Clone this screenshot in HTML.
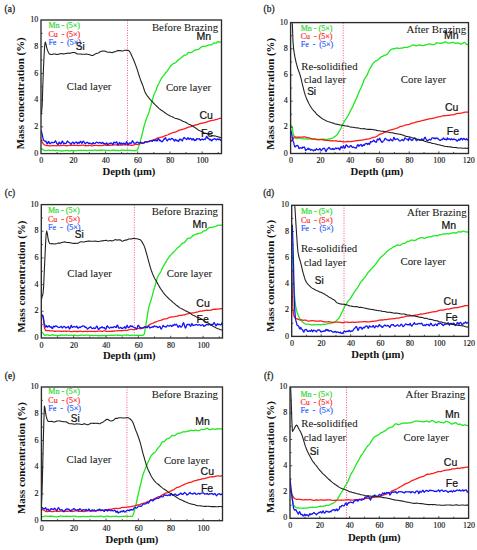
<!DOCTYPE html>
<html><head><meta charset="utf-8"><style>
html,body{margin:0;padding:0;background:#fff;}
body{width:477px;height:550px;overflow:hidden;}
svg{display:block;}
.tk{font-family:"Liberation Serif",serif;font-size:8px;fill:#111;stroke:#111;stroke-width:0.15px;}
.pl{font-family:"Liberation Serif",serif;font-size:9.4px;fill:#222;stroke:#222;stroke-width:0.25px;}
.yl{font-family:"Liberation Serif",serif;font-size:10.9px;font-weight:bold;fill:#111;}
.xl{font-family:"Liberation Serif",serif;font-size:10.7px;font-weight:bold;fill:#111;}
.lg{font-family:"Liberation Serif",serif;font-size:8px;stroke-width:0.2px;}
.ann{font-family:"Liberation Serif",serif;font-size:10.8px;fill:#1a1a1a;stroke:#1a1a1a;stroke-width:0.08px;}
.si{font-family:"Liberation Sans",sans-serif;font-size:10px;fill:#111;stroke:#111;stroke-width:0.22px;}
.el{font-family:"Liberation Sans",sans-serif;font-size:10.5px;fill:#111;stroke:#111;stroke-width:0.22px;}
</style></head><body>
<svg width="477" height="550" viewBox="0 0 477 550">
<rect width="477" height="550" fill="#fff"/>
<clipPath id="clip0"><rect x="41.00" y="20.00" width="180.50" height="133.60"/></clipPath>
<g clip-path="url(#clip0)">
<line x1="127.54" y1="20.00" x2="127.54" y2="153.60" stroke="#f4506e" stroke-width="0.9" stroke-dasharray="1.1,1.4"/>
<polyline points="41.00,148.49 41.60,148.70 42.20,148.97 42.80,149.37 43.41,149.95 44.01,150.43 44.61,150.52 45.21,150.55 45.81,150.55 46.41,150.54 47.02,150.42 47.62,150.28 48.22,150.19 48.82,150.17 49.42,150.31 50.02,150.41 50.63,150.47 51.23,150.43 51.83,150.33 52.43,150.29 53.03,150.26 53.64,150.35 54.24,150.44 54.84,150.52 55.44,150.54 56.04,150.46 56.64,150.41 57.25,150.40 57.85,150.49 58.45,150.62 59.05,150.71 59.65,150.80 60.25,150.88 60.86,150.94 61.46,150.99 62.06,150.98 62.66,150.92 63.26,150.84 63.86,150.76 64.47,150.69 65.07,150.64 65.67,150.53 66.27,150.44 66.87,150.39 67.47,150.42 68.08,150.58 68.68,150.75 69.28,150.91 69.88,150.87 70.48,150.76 71.08,150.60 71.69,150.45 72.29,150.49 72.89,150.56 73.49,150.67 74.09,150.73 74.69,150.73 75.30,150.72 75.90,150.71 76.50,150.63 77.10,150.54 77.70,150.43 78.30,150.36 78.91,150.41 79.51,150.44 80.11,150.41 80.71,150.36 81.31,150.30 81.91,150.34 82.52,150.42 83.12,150.45 83.72,150.46 84.32,150.41 84.92,150.39 85.52,150.46 86.12,150.52 86.73,150.59 87.33,150.53 87.93,150.39 88.53,150.32 89.13,150.27 89.74,150.39 90.34,150.47 90.94,150.40 91.54,150.36 92.14,150.35 92.74,150.33 93.34,150.31 93.95,150.18 94.55,150.00 95.15,150.07 95.75,150.17 96.35,150.38 96.95,150.51 97.56,150.45 98.16,150.38 98.76,150.29 99.36,150.27 99.96,150.27 100.56,150.26 101.17,150.24 101.77,150.24 102.37,150.21 102.97,150.13 103.57,150.07 104.18,150.06 104.78,150.13 105.38,150.26 105.98,150.34 106.58,150.39 107.18,150.38 107.79,150.37 108.39,150.41 108.99,150.46 109.59,150.53 110.19,150.57 110.79,150.55 111.39,150.45 112.00,150.32 112.60,150.17 113.20,150.02 113.80,150.06 114.40,150.14 115.00,150.36 115.61,150.50 116.21,150.49 116.81,150.47 117.41,150.42 118.01,150.50 118.62,150.62 119.22,150.59 119.82,150.54 120.42,150.34 121.02,150.17 121.62,150.03 122.23,149.98 122.83,150.03 123.43,150.14 124.03,150.29 124.63,150.37 125.23,150.43 125.84,150.34 126.44,150.25 127.04,150.17 127.64,150.17 128.24,150.29 128.84,150.39 129.44,150.46 130.05,150.46 130.65,150.42 131.25,150.45 131.85,150.49 132.45,150.58 133.06,150.67 133.66,150.72 134.26,150.73 134.86,150.69 135.46,150.62 136.06,150.52 136.66,150.31 137.27,149.94 137.87,149.05 138.47,147.16 139.07,145.31 139.67,143.34 140.28,141.23 140.88,139.09 141.48,136.88 142.08,134.56 142.68,132.08 143.28,129.49 143.88,126.96 144.49,124.80 145.09,122.84 145.69,120.99 146.29,119.20 146.89,117.46 147.50,115.96 148.10,114.55 148.70,112.98 149.30,111.25 149.90,109.09 150.50,106.87 151.11,104.71 151.71,102.52 152.31,100.28 152.91,98.12 153.51,96.06 154.11,94.51 154.72,93.23 155.32,91.83 155.92,90.43 156.52,88.69 157.12,87.05 157.72,85.61 158.32,84.32 158.93,83.22 159.53,82.07 160.13,80.92 160.73,79.67 161.33,78.42 161.94,77.53 162.54,76.73 163.14,76.12 163.74,75.43 164.34,74.56 164.94,73.74 165.55,72.96 166.15,72.26 166.75,71.60 167.35,70.79 167.95,69.95 168.55,69.06 169.16,68.14 169.76,67.14 170.36,66.26 170.96,65.52 171.56,64.97 172.16,64.55 172.77,64.10 173.37,63.67 173.97,63.34 174.57,63.05 175.17,62.87 175.77,62.52 176.38,61.86 176.98,61.21 177.58,60.56 178.18,60.11 178.78,59.73 179.38,59.19 179.99,58.65 180.59,58.19 181.19,57.73 181.79,57.22 182.39,56.73 182.99,56.25 183.59,55.77 184.20,55.31 184.80,55.15 185.40,55.05 186.00,54.94 186.60,54.71 187.20,53.84 187.81,53.11 188.41,52.59 189.01,52.43 189.61,52.57 190.21,52.58 190.82,52.53 191.42,52.36 192.02,52.14 192.62,51.75 193.22,51.32 193.82,50.76 194.43,50.36 195.03,50.14 195.63,49.99 196.23,49.89 196.83,49.73 197.43,49.57 198.03,49.47 198.64,49.32 199.24,48.88 199.84,48.36 200.44,47.69 201.04,47.20 201.65,46.84 202.25,46.58 202.85,46.34 203.45,46.28 204.05,46.25 204.65,46.29 205.26,46.28 205.86,46.09 206.46,45.87 207.06,45.62 207.66,45.37 208.26,45.13 208.87,44.97 209.47,44.82 210.07,44.85 210.67,44.88 211.27,44.91 211.87,44.72 212.47,44.13 213.08,43.49 213.68,42.81 214.28,42.79 214.88,43.02 215.48,43.13 216.09,43.16 216.69,42.46 217.29,41.89 217.89,41.63 218.49,41.67 219.09,42.06 219.69,42.19 220.30,42.18 220.90,41.94 221.50,41.66" fill="none" stroke="#1ee81e" stroke-width="1.3" stroke-linejoin="round" stroke-linecap="round"/>
<polyline points="41.00,140.46 41.60,141.32 42.20,142.14 42.80,143.02 43.41,143.96 44.01,144.69 44.61,144.96 45.21,145.15 45.81,145.28 46.41,145.38 47.02,145.49 47.62,145.58 48.22,145.68 48.82,145.75 49.42,145.83 50.02,145.84 50.63,145.78 51.23,145.67 51.83,145.53 52.43,145.52 53.03,145.54 53.64,145.56 54.24,145.58 54.84,145.59 55.44,145.62 56.04,145.67 56.64,145.68 57.25,145.66 57.85,145.61 58.45,145.55 59.05,145.57 59.65,145.60 60.25,145.62 60.86,145.61 61.46,145.54 62.06,145.46 62.66,145.37 63.26,145.35 63.86,145.35 64.47,145.43 65.07,145.51 65.67,145.65 66.27,145.75 66.87,145.77 67.47,145.71 68.08,145.54 68.68,145.44 69.28,145.38 69.88,145.41 70.48,145.48 71.08,145.47 71.69,145.44 72.29,145.39 72.89,145.35 73.49,145.33 74.09,145.34 74.69,145.39 75.30,145.42 75.90,145.45 76.50,145.46 77.10,145.47 77.70,145.53 78.30,145.57 78.91,145.52 79.51,145.45 80.11,145.37 80.71,145.30 81.31,145.23 81.91,145.15 82.52,145.05 83.12,145.14 83.72,145.25 84.32,145.51 84.92,145.71 85.52,145.76 86.12,145.73 86.73,145.61 87.33,145.56 87.93,145.56 88.53,145.51 89.13,145.46 89.74,145.44 90.34,145.46 90.94,145.65 91.54,145.78 92.14,145.82 92.74,145.74 93.34,145.55 93.95,145.44 94.55,145.36 95.15,145.36 95.75,145.37 96.35,145.39 96.95,145.43 97.56,145.51 98.16,145.57 98.76,145.60 99.36,145.56 99.96,145.50 100.56,145.52 101.17,145.55 101.77,145.54 102.37,145.50 102.97,145.36 103.57,145.24 104.18,145.17 104.78,145.16 105.38,145.19 105.98,145.26 106.58,145.34 107.18,145.38 107.79,145.41 108.39,145.42 108.99,145.41 109.59,145.36 110.19,145.30 110.79,145.24 111.39,145.20 112.00,145.18 112.60,145.13 113.20,145.06 113.80,144.93 114.40,144.83 115.00,144.82 115.61,144.86 116.21,144.98 116.81,145.02 117.41,145.01 118.01,144.99 118.62,144.96 119.22,145.04 119.82,145.13 120.42,145.20 121.02,145.22 121.62,145.14 122.23,145.03 122.83,144.91 123.43,144.87 124.03,144.87 124.63,144.89 125.23,144.91 125.84,144.86 126.44,144.80 127.04,144.73 127.64,144.73 128.24,144.85 128.84,144.99 129.44,145.15 130.05,145.19 130.65,145.19 131.25,145.26 131.85,145.32 132.45,145.34 133.06,145.27 133.66,144.97 134.26,144.68 134.86,144.41 135.46,144.34 136.06,144.37 136.66,144.46 137.27,144.55 137.87,144.43 138.47,144.27 139.07,144.02 139.67,143.80 140.28,143.66 140.88,143.54 141.48,143.43 142.08,143.27 142.68,143.10 143.28,142.87 143.88,142.63 144.49,142.37 145.09,142.13 145.69,141.93 146.29,141.78 146.89,141.69 147.50,141.58 148.10,141.46 148.70,141.26 149.30,141.05 149.90,140.83 150.50,140.61 151.11,140.43 151.71,140.27 152.31,140.16 152.91,140.01 153.51,139.81 154.11,139.62 154.72,139.42 155.32,139.20 155.92,138.97 156.52,138.57 157.12,138.23 157.72,138.00 158.32,137.84 158.93,137.76 159.53,137.60 160.13,137.39 160.73,137.27 161.33,137.17 161.94,137.11 162.54,137.00 163.14,136.67 163.74,136.34 164.34,136.02 164.94,135.77 165.55,135.60 166.15,135.43 166.75,135.26 167.35,135.02 167.95,134.76 168.55,134.43 169.16,134.10 169.76,133.79 170.36,133.53 170.96,133.34 171.56,133.13 172.16,132.91 172.77,132.67 173.37,132.43 173.97,132.32 174.57,132.22 175.17,132.14 175.77,132.01 176.38,131.76 176.98,131.43 177.58,131.01 178.18,130.68 178.78,130.37 179.38,130.19 179.99,130.02 180.59,129.86 181.19,129.71 181.79,129.55 182.39,129.39 182.99,129.22 183.59,129.05 184.20,128.88 184.80,128.68 185.40,128.48 186.00,128.19 186.60,127.90 187.20,127.59 187.81,127.34 188.41,127.18 189.01,127.06 189.61,126.97 190.21,126.85 190.82,126.71 191.42,126.45 192.02,126.17 192.62,125.82 193.22,125.51 193.82,125.33 194.43,125.19 195.03,125.09 195.63,124.99 196.23,124.89 196.83,124.75 197.43,124.60 198.03,124.32 198.64,124.04 199.24,123.80 199.84,123.60 200.44,123.50 201.04,123.38 201.65,123.26 202.25,123.09 202.85,122.91 203.45,122.79 204.05,122.68 204.65,122.60 205.26,122.50 205.86,122.33 206.46,122.14 207.06,121.90 207.66,121.69 208.26,121.49 208.87,121.34 209.47,121.20 210.07,120.96 210.67,120.73 211.27,120.52 211.87,120.38 212.47,120.35 213.08,120.30 213.68,120.22 214.28,120.05 214.88,119.85 215.48,119.72 216.09,119.60 216.69,119.48 217.29,119.31 217.89,119.01 218.49,118.74 219.09,118.49 219.69,118.38 220.30,118.36 220.90,118.31 221.50,118.25" fill="none" stroke="#ff1a1a" stroke-width="1.3" stroke-linejoin="round" stroke-linecap="round"/>
<polyline points="41.00,130.42 41.60,132.08 42.20,134.49 42.80,137.46 43.41,140.03 44.01,140.45 44.61,140.84 45.21,141.47 45.81,141.07 46.41,142.07 47.02,143.76 47.62,143.57 48.22,141.84 48.82,141.47 49.42,143.18 50.02,143.85 50.63,143.10 51.23,142.65 51.83,142.48 52.43,142.44 53.03,142.77 53.64,142.65 54.24,142.47 54.84,141.75 55.44,140.74 56.04,141.67 56.64,143.33 57.25,143.80 57.85,144.44 58.45,144.22 59.05,142.15 59.65,142.35 60.25,143.82 60.86,143.96 61.46,143.04 62.06,141.27 62.66,141.10 63.26,143.03 63.86,143.88 64.47,143.23 65.07,143.36 65.67,143.54 66.27,143.20 66.87,141.93 67.47,140.97 68.08,141.79 68.68,142.43 69.28,142.64 69.88,143.11 70.48,143.70 71.08,144.27 71.69,143.28 72.29,142.46 72.89,142.16 73.49,142.69 74.09,143.93 74.69,143.19 75.30,142.47 75.90,142.38 76.50,142.01 77.10,143.09 77.70,143.69 78.30,142.44 78.91,142.73 79.51,143.13 80.11,141.65 80.71,141.34 81.31,142.37 81.91,143.44 82.52,142.25 83.12,141.13 83.72,141.52 84.32,142.37 84.92,143.50 85.52,143.83 86.12,142.87 86.73,142.73 87.33,142.21 87.93,142.51 88.53,143.58 89.13,143.43 89.74,143.12 90.34,143.41 90.94,143.65 91.54,143.81 92.14,144.11 92.74,143.14 93.34,142.59 93.95,143.53 94.55,143.55 95.15,143.45 95.75,142.74 96.35,142.15 96.95,142.12 97.56,142.65 98.16,142.94 98.76,143.14 99.36,142.59 99.96,142.35 100.56,142.61 101.17,143.42 101.77,143.28 102.37,142.35 102.97,142.55 103.57,143.47 104.18,143.88 104.78,143.42 105.38,144.17 105.98,144.19 106.58,142.82 107.18,143.62 107.79,144.56 108.39,144.24 108.99,143.67 109.59,143.48 110.19,143.53 110.79,142.98 111.39,143.07 112.00,143.49 112.60,144.55 113.20,144.26 113.80,142.24 114.40,142.40 115.00,142.79 115.61,142.75 116.21,142.15 116.81,141.84 117.41,143.93 118.01,144.93 118.62,144.35 119.22,142.72 119.82,142.45 120.42,144.09 121.02,143.89 121.62,143.11 122.23,144.27 122.83,143.95 123.43,143.07 124.03,143.20 124.63,143.95 125.23,144.55 125.84,143.42 126.44,141.78 127.04,142.53 127.64,144.10 128.24,144.77 128.84,143.67 129.44,142.89 130.05,143.06 130.65,143.53 131.25,143.14 131.85,141.86 132.45,140.71 133.06,141.57 133.66,143.00 134.26,143.06 134.86,143.24 135.46,143.20 136.06,143.01 136.66,142.37 137.27,142.02 137.87,142.26 138.47,142.87 139.07,143.26 139.67,142.93 140.28,142.44 140.88,142.15 141.48,142.69 142.08,142.90 142.68,143.06 143.28,142.89 143.88,143.10 144.49,142.74 145.09,141.59 145.69,141.64 146.29,141.94 146.89,142.19 147.50,142.10 148.10,141.69 148.70,141.66 149.30,141.68 149.90,140.97 150.50,140.91 151.11,140.95 151.71,141.11 152.31,141.39 152.91,140.48 153.51,140.05 154.11,140.28 154.72,140.90 155.32,140.40 155.92,139.72 156.52,140.27 157.12,141.10 157.72,139.80 158.32,138.66 158.93,139.46 159.53,140.64 160.13,140.03 160.73,140.90 161.33,141.68 161.94,141.36 162.54,141.69 163.14,140.42 163.74,139.24 164.34,139.29 164.94,138.18 165.55,137.73 166.15,139.21 166.75,140.53 167.35,140.83 167.95,139.84 168.55,139.13 169.16,138.94 169.76,139.22 170.36,139.73 170.96,139.07 171.56,138.42 172.16,138.32 172.77,139.06 173.37,139.60 173.97,140.48 174.57,140.97 175.17,139.67 175.77,139.41 176.38,140.41 176.98,140.75 177.58,140.48 178.18,141.37 178.78,141.28 179.38,139.45 179.99,138.96 180.59,139.75 181.19,139.49 181.79,140.48 182.39,140.86 182.99,139.16 183.59,138.01 184.20,137.41 184.80,138.06 185.40,138.69 186.00,138.86 186.60,139.55 187.20,139.00 187.81,137.76 188.41,138.32 189.01,139.33 189.61,138.70 190.21,138.27 190.82,138.44 191.42,139.31 192.02,139.96 192.62,139.23 193.22,138.53 193.82,139.67 194.43,140.57 195.03,139.81 195.63,140.38 196.23,139.96 196.83,138.63 197.43,138.79 198.03,139.11 198.64,138.79 199.24,138.76 199.84,139.50 200.44,140.22 201.04,139.79 201.65,139.42 202.25,139.04 202.85,139.61 203.45,139.77 204.05,139.16 204.65,139.07 205.26,139.49 205.86,138.24 206.46,136.39 207.06,136.77 207.66,138.31 208.26,138.19 208.87,138.68 209.47,139.85 210.07,139.28 210.67,139.43 211.27,140.82 211.87,140.89 212.47,139.59 213.08,139.50 213.68,139.21 214.28,138.67 214.88,138.81 215.48,139.13 216.09,139.75 216.69,139.89 217.29,138.97 217.89,138.77 218.49,139.70 219.09,139.52 219.69,139.04 220.30,139.83 220.90,140.50 221.50,139.62" fill="none" stroke="#1414f5" stroke-width="1.3" stroke-linejoin="round" stroke-linecap="round"/>
<polyline points="41.00,114.25 41.60,111.92 42.20,105.13 42.80,86.23 43.41,69.91 44.01,56.83 44.61,46.25 45.21,42.05 45.81,43.47 46.41,46.32 47.02,48.84 47.62,50.45 48.22,51.87 48.82,53.09 49.42,53.96 50.02,54.26 50.63,54.40 51.23,54.46 51.83,54.48 52.43,54.32 53.03,54.10 53.64,54.02 54.24,53.96 54.84,54.03 55.44,54.13 56.04,54.27 56.64,54.38 57.25,54.46 57.85,54.35 58.45,54.18 59.05,54.03 59.65,53.88 60.25,53.79 60.86,53.71 61.46,53.65 62.06,53.67 62.66,53.81 63.26,53.88 63.86,53.92 64.47,53.79 65.07,53.62 65.67,53.52 66.27,53.42 66.87,53.35 67.47,53.27 68.08,53.17 68.68,53.14 69.28,53.18 69.88,53.16 70.48,53.15 71.08,52.93 71.69,52.72 72.29,52.63 72.89,52.56 73.49,52.55 74.09,52.56 74.69,52.60 75.30,52.85 75.90,53.20 76.50,53.54 77.10,53.89 77.70,53.98 78.30,54.05 78.91,54.06 79.51,54.05 80.11,54.00 80.71,54.01 81.31,54.08 81.91,54.20 82.52,54.32 83.12,54.32 83.72,54.29 84.32,54.28 84.92,54.26 85.52,54.19 86.12,54.15 86.73,54.14 87.33,54.21 87.93,54.32 88.53,54.44 89.13,54.57 89.74,54.75 90.34,54.93 90.94,55.17 91.54,55.36 92.14,55.49 92.74,55.42 93.34,55.19 93.95,54.83 94.55,54.36 95.15,54.05 95.75,53.72 96.35,53.53 96.95,53.33 97.56,53.19 98.16,52.97 98.76,52.68 99.36,52.30 99.96,51.86 100.56,51.56 101.17,51.33 101.77,51.21 102.37,51.16 102.97,51.09 103.57,51.06 104.18,51.07 104.78,51.14 105.38,51.28 105.98,51.48 106.58,51.73 107.18,52.00 107.79,52.25 108.39,52.25 108.99,52.22 109.59,52.14 110.19,52.19 110.79,52.40 111.39,52.54 112.00,52.61 112.60,52.42 113.20,52.15 113.80,51.99 114.40,51.83 115.00,51.76 115.61,51.60 116.21,51.30 116.81,50.97 117.41,50.66 118.01,50.57 118.62,50.61 119.22,50.63 119.82,50.65 120.42,50.67 121.02,50.73 121.62,50.90 122.23,50.96 122.83,50.93 123.43,50.75 124.03,50.49 124.63,50.31 125.23,50.17 125.84,50.27 126.44,50.36 127.04,50.36 127.64,50.36 128.24,50.36 128.84,50.71 129.44,51.36 130.05,52.26 130.65,53.35 131.25,54.68 131.85,56.01 132.45,57.36 133.06,58.67 133.66,60.00 134.26,61.46 134.86,63.01 135.46,64.64 136.06,66.29 136.66,67.93 137.27,69.66 137.87,71.58 138.47,73.54 139.07,75.49 139.67,77.35 140.28,79.06 140.88,80.69 141.48,82.26 142.08,83.78 142.68,85.32 143.28,86.91 143.88,88.75 144.49,90.66 145.09,92.26 145.69,93.38 146.29,94.34 146.89,95.25 147.50,96.10 148.10,96.95 148.70,97.71 149.30,98.43 149.90,99.12 150.50,99.79 151.11,100.43 151.71,101.06 152.31,101.66 152.91,102.33 153.51,103.04 154.11,103.73 154.72,104.41 155.32,104.94 155.92,105.45 156.52,106.01 157.12,106.58 157.72,107.19 158.32,107.76 158.93,108.31 159.53,108.83 160.13,109.31 160.73,109.76 161.33,110.19 161.94,110.58 162.54,110.98 163.14,111.41 163.74,111.85 164.34,112.29 164.94,112.73 165.55,113.16 166.15,113.61 166.75,114.06 167.35,114.41 167.95,114.74 168.55,115.03 169.16,115.34 169.76,115.69 170.36,116.01 170.96,116.30 171.56,116.52 172.16,116.69 172.77,116.97 173.37,117.25 173.97,117.63 174.57,117.99 175.17,118.23 175.77,118.43 176.38,118.55 176.98,118.70 177.58,118.88 178.18,119.10 178.78,119.35 179.38,119.59 179.99,119.84 180.59,120.10 181.19,120.36 181.79,120.64 182.39,120.94 182.99,121.26 183.59,121.54 184.20,121.81 184.80,121.99 185.40,122.15 186.00,122.42 186.60,122.73 187.20,123.19 187.81,123.62 188.41,124.00 189.01,124.31 189.61,124.55 190.21,124.82 190.82,125.09 191.42,125.44 192.02,125.81 192.62,126.14 193.22,126.49 193.82,126.83 194.43,127.22 195.03,127.66 195.63,128.08 196.23,128.48 196.83,128.89 197.43,129.30 198.03,129.74 198.64,130.15 199.24,130.46 199.84,130.74 200.44,130.97 201.04,131.22 201.65,131.48 202.25,131.83 202.85,132.19 203.45,132.56 204.05,132.91 204.65,133.10 205.26,133.26 205.86,133.37 206.46,133.53 207.06,133.73 207.66,133.97 208.26,134.24 208.87,134.46 209.47,134.66 210.07,134.80 210.67,134.95 211.27,135.17 211.87,135.39 212.47,135.63 213.08,135.78 213.68,135.87 214.28,135.92 214.88,135.96 215.48,136.08 216.09,136.22 216.69,136.41 217.29,136.59 217.89,136.77 218.49,136.94 219.09,137.10 219.69,137.27 220.30,137.45 220.90,137.61 221.50,137.76" fill="none" stroke="#222222" stroke-width="1.1" stroke-linejoin="round" stroke-linecap="round"/>
</g>
<rect x="41.00" y="20.00" width="180.50" height="133.60" fill="none" stroke="#2c2c2c" stroke-width="1.35"/>
<line x1="57.12" y1="153.60" x2="57.12" y2="152.00" stroke="#2c2c2c" stroke-width="0.8"/>
<line x1="73.23" y1="153.60" x2="73.23" y2="151.40" stroke="#2c2c2c" stroke-width="0.8"/>
<line x1="89.35" y1="153.60" x2="89.35" y2="152.00" stroke="#2c2c2c" stroke-width="0.8"/>
<line x1="105.46" y1="153.60" x2="105.46" y2="151.40" stroke="#2c2c2c" stroke-width="0.8"/>
<line x1="121.58" y1="153.60" x2="121.58" y2="152.00" stroke="#2c2c2c" stroke-width="0.8"/>
<line x1="137.70" y1="153.60" x2="137.70" y2="151.40" stroke="#2c2c2c" stroke-width="0.8"/>
<line x1="153.81" y1="153.60" x2="153.81" y2="152.00" stroke="#2c2c2c" stroke-width="0.8"/>
<line x1="169.93" y1="153.60" x2="169.93" y2="151.40" stroke="#2c2c2c" stroke-width="0.8"/>
<line x1="186.04" y1="153.60" x2="186.04" y2="152.00" stroke="#2c2c2c" stroke-width="0.8"/>
<line x1="202.16" y1="153.60" x2="202.16" y2="151.40" stroke="#2c2c2c" stroke-width="0.8"/>
<line x1="218.28" y1="153.60" x2="218.28" y2="152.00" stroke="#2c2c2c" stroke-width="0.8"/>
<line x1="41.00" y1="140.24" x2="42.60" y2="140.24" stroke="#2c2c2c" stroke-width="0.8"/>
<line x1="41.00" y1="126.88" x2="43.20" y2="126.88" stroke="#2c2c2c" stroke-width="0.8"/>
<line x1="41.00" y1="113.52" x2="42.60" y2="113.52" stroke="#2c2c2c" stroke-width="0.8"/>
<line x1="41.00" y1="100.16" x2="43.20" y2="100.16" stroke="#2c2c2c" stroke-width="0.8"/>
<line x1="41.00" y1="86.80" x2="42.60" y2="86.80" stroke="#2c2c2c" stroke-width="0.8"/>
<line x1="41.00" y1="73.44" x2="43.20" y2="73.44" stroke="#2c2c2c" stroke-width="0.8"/>
<line x1="41.00" y1="60.08" x2="42.60" y2="60.08" stroke="#2c2c2c" stroke-width="0.8"/>
<line x1="41.00" y1="46.72" x2="43.20" y2="46.72" stroke="#2c2c2c" stroke-width="0.8"/>
<line x1="41.00" y1="33.36" x2="42.60" y2="33.36" stroke="#2c2c2c" stroke-width="0.8"/>
<text x="41.30" y="163.30" class="tk" text-anchor="middle">0</text>
<text x="73.53" y="163.30" class="tk" text-anchor="middle">20</text>
<text x="105.76" y="163.30" class="tk" text-anchor="middle">40</text>
<text x="138.00" y="163.30" class="tk" text-anchor="middle">60</text>
<text x="170.23" y="163.30" class="tk" text-anchor="middle">80</text>
<text x="202.46" y="163.30" class="tk" text-anchor="middle">100</text>
<text x="38.20" y="155.70" class="tk" text-anchor="end">0</text>
<text x="38.20" y="128.98" class="tk" text-anchor="end">2</text>
<text x="38.20" y="102.26" class="tk" text-anchor="end">4</text>
<text x="38.20" y="75.54" class="tk" text-anchor="end">6</text>
<text x="38.20" y="48.82" class="tk" text-anchor="end">8</text>
<text x="38.20" y="22.10" class="tk" text-anchor="end">10</text>
<text x="4.60" y="11.90" class="pl" text-anchor="start">(a)</text>
<text x="24.50" y="93.30" class="yl" text-anchor="middle" transform="rotate(-90 24.50 93.30)">Mass concentration (%)</text>
<text x="129.00" y="174.70" class="xl" text-anchor="middle">Depth (&#181;m)</text>
<text x="48.40" y="28.30" class="lg" fill="#2ed82e" stroke="#2ed82e">Mn - (5&#215;)</text>
<text x="48.40" y="36.50" class="lg" fill="#ff2e2e" stroke="#ff2e2e">Cu&#160; - (5&#215;)</text>
<text x="48.40" y="44.70" class="lg" fill="#2e62ff" stroke="#2e62ff">Fe&#160; -&#160; (5&#215;)</text>
<text x="151.90" y="31.20" class="ann" text-anchor="start">Before Brazing</text>
<text x="196.60" y="39.80" class="el" text-anchor="start">Mn</text>
<text x="165.90" y="90.90" class="ann" text-anchor="start">Core layer</text>
<text x="66.80" y="90.00" class="ann" text-anchor="start">Clad layer</text>
<text x="199.50" y="118.90" class="el" text-anchor="start">Cu</text>
<text x="200.90" y="136.50" class="el" text-anchor="start">Fe</text>
<text x="75.80" y="50.30" class="si" text-anchor="start">Si</text>
<clipPath id="clip1"><rect x="290.60" y="22.60" width="177.90" height="130.90"/></clipPath>
<g clip-path="url(#clip1)">
<line x1="343.23" y1="22.60" x2="343.23" y2="153.50" stroke="#f4506e" stroke-width="0.9" stroke-dasharray="1.1,1.4"/>
<polyline points="290.60,125.92 291.20,125.40 291.80,126.41 292.40,128.84 293.00,132.41 293.61,135.29 294.21,136.61 294.81,137.62 295.41,138.17 296.01,138.38 296.61,138.48 297.21,138.53 297.81,138.38 298.41,138.22 299.01,138.04 299.62,137.98 300.22,138.12 300.82,138.32 301.42,138.57 302.02,138.70 302.62,138.78 303.22,138.83 303.82,138.88 304.42,138.86 305.02,138.85 305.63,138.87 306.23,138.94 306.83,139.06 307.43,139.10 308.03,139.07 308.63,139.01 309.23,138.94 309.83,138.93 310.43,138.92 311.03,139.04 311.64,139.16 312.24,139.28 312.84,139.31 313.44,139.25 314.04,139.19 314.64,139.14 315.24,139.16 315.84,139.20 316.44,139.25 317.04,139.32 317.65,139.50 318.25,139.64 318.85,139.71 319.45,139.63 320.05,139.40 320.65,139.25 321.25,139.14 321.85,139.19 322.45,139.26 323.05,139.24 323.66,139.23 324.26,139.21 324.86,139.24 325.46,139.36 326.06,139.46 326.66,139.53 327.26,139.43 327.86,139.24 328.46,139.10 329.06,138.95 329.67,138.88 330.27,138.77 330.87,138.57 331.47,138.42 332.07,138.29 332.67,138.06 333.27,137.75 333.87,137.26 334.47,136.69 335.08,136.32 335.68,135.91 336.28,135.50 336.88,134.95 337.48,134.14 338.08,133.22 338.68,132.18 339.28,131.21 339.88,130.21 340.48,129.12 341.09,127.94 341.69,126.57 342.29,125.22 342.89,123.99 343.49,122.92 344.09,121.97 344.69,121.00 345.29,120.01 345.89,119.04 346.49,118.08 347.10,117.17 347.70,116.24 348.30,115.16 348.90,114.03 349.50,112.80 350.10,111.58 350.70,110.41 351.30,109.27 351.90,108.16 352.50,106.92 353.11,105.63 353.71,104.27 354.31,102.88 354.91,101.64 355.51,100.36 356.11,99.04 356.71,97.68 357.31,96.28 357.91,94.82 358.51,93.31 359.12,91.85 359.72,90.41 360.32,89.19 360.92,88.00 361.52,86.67 362.12,85.28 362.72,83.69 363.32,82.05 363.92,80.33 364.52,78.93 365.13,77.77 365.73,77.04 366.33,76.48 366.93,75.34 367.53,74.14 368.13,72.53 368.73,71.02 369.33,69.74 369.93,68.57 370.53,67.55 371.14,66.58 371.74,65.67 372.34,64.68 372.94,63.74 373.54,62.94 374.14,62.25 374.74,61.66 375.34,61.17 375.94,60.86 376.54,60.62 377.15,60.45 377.75,60.03 378.35,59.47 378.95,58.85 379.55,58.23 380.15,57.67 380.75,57.17 381.35,56.89 381.95,56.62 382.56,56.38 383.16,56.03 383.76,55.58 384.36,55.31 384.96,55.12 385.56,55.01 386.16,54.90 386.76,54.53 387.36,54.07 387.96,53.31 388.57,52.49 389.17,51.54 389.77,50.74 390.37,50.09 390.97,49.60 391.57,49.27 392.17,49.02 392.77,48.82 393.37,48.77 393.97,48.74 394.58,48.69 395.18,48.53 395.78,48.22 396.38,48.02 396.98,47.91 397.58,48.06 398.18,48.28 398.78,48.38 399.38,48.44 399.98,48.32 400.59,48.22 401.19,48.20 401.79,48.14 402.39,48.03 402.99,47.82 403.59,47.55 404.19,47.43 404.79,47.35 405.39,47.38 405.99,47.40 406.60,47.37 407.20,47.28 407.80,47.04 408.40,46.85 409.00,46.70 409.60,46.51 410.20,46.31 410.80,45.93 411.40,45.52 412.00,45.35 412.61,45.18 413.21,45.03 413.81,44.97 414.41,45.11 415.01,45.37 415.61,45.75 416.21,45.81 416.81,45.74 417.41,45.47 418.01,45.18 418.62,45.08 419.22,45.00 419.82,45.00 420.42,45.08 421.02,45.29 421.62,45.46 422.22,45.61 422.82,45.62 423.42,45.58 424.02,45.47 424.63,45.34 425.23,44.98 425.83,44.67 426.43,44.53 427.03,44.44 427.63,44.43 428.23,44.26 428.83,43.98 429.43,43.88 430.04,43.82 430.64,44.15 431.24,44.47 431.84,44.62 432.44,44.70 433.04,44.63 433.64,44.58 434.24,44.55 434.84,44.20 435.44,43.67 436.05,43.16 436.65,42.67 437.25,42.77 437.85,42.90 438.45,43.05 439.05,43.19 439.65,43.28 440.25,43.27 440.85,43.18 441.45,43.09 442.06,43.00 442.66,42.93 443.26,42.85 443.86,42.50 444.46,42.17 445.06,41.98 445.66,41.96 446.26,42.23 446.86,42.55 447.46,42.91 448.07,43.08 448.67,43.18 449.27,43.05 449.87,42.89 450.47,42.77 451.07,42.65 451.67,42.60 452.27,42.50 452.87,42.36 453.47,42.37 454.08,42.51 454.68,42.94 455.28,43.47 455.88,43.43 456.48,43.32 457.08,42.98 457.68,42.80 458.28,43.06 458.88,43.32 459.48,43.57 460.09,43.74 460.69,43.85 461.29,43.94 461.89,44.03 462.49,43.56 463.09,43.06 463.69,42.49 464.29,42.22 464.89,42.61 465.49,43.20 466.10,44.00 466.70,44.43 467.30,44.67 467.90,44.60 468.50,44.47" fill="none" stroke="#1ee81e" stroke-width="1.3" stroke-linejoin="round" stroke-linecap="round"/>
<polyline points="290.60,140.33 291.20,141.04 291.80,140.95 292.40,140.21 293.00,139.14 293.61,137.99 294.21,137.19 294.81,136.96 295.41,136.98 296.01,137.06 296.61,137.14 297.21,137.23 297.81,137.23 298.41,137.24 299.01,137.24 299.62,137.23 300.22,137.21 300.82,137.15 301.42,137.07 302.02,137.04 302.62,137.04 303.22,137.02 303.82,137.00 304.42,136.95 305.02,136.96 305.63,137.14 306.23,137.34 306.83,137.57 307.43,137.68 308.03,137.71 308.63,137.78 309.23,137.86 309.83,138.11 310.43,138.35 311.03,138.52 311.64,138.67 312.24,138.77 312.84,138.86 313.44,138.92 314.04,138.98 314.64,139.03 315.24,139.21 315.84,139.42 316.44,139.51 317.04,139.58 317.65,139.53 318.25,139.50 318.85,139.51 319.45,139.54 320.05,139.56 320.65,139.61 321.25,139.67 321.85,139.72 322.45,139.76 323.05,139.87 323.66,139.99 324.26,140.17 324.86,140.30 325.46,140.35 326.06,140.37 326.66,140.37 327.26,140.38 327.86,140.40 328.46,140.46 329.06,140.52 329.67,140.66 330.27,140.76 330.87,140.79 331.47,140.78 332.07,140.74 332.67,140.76 333.27,140.83 333.87,140.89 334.47,140.94 335.08,140.82 335.68,140.72 336.28,140.80 336.88,140.94 337.48,141.23 338.08,141.39 338.68,141.38 339.28,141.31 339.88,141.19 340.48,141.26 341.09,141.37 341.69,141.52 342.29,141.65 342.89,141.72 343.49,141.77 344.09,141.79 344.69,141.79 345.29,141.78 345.89,141.73 346.49,141.66 347.10,141.59 347.70,141.52 348.30,141.52 348.90,141.53 349.50,141.56 350.10,141.58 350.70,141.55 351.30,141.50 351.90,141.43 352.50,141.36 353.11,141.31 353.71,141.20 354.31,141.08 354.91,140.93 355.51,140.80 356.11,140.74 356.71,140.68 357.31,140.63 357.91,140.58 358.51,140.52 359.12,140.47 359.72,140.42 360.32,140.36 360.92,140.30 361.52,140.18 362.12,140.07 362.72,139.97 363.32,139.86 363.92,139.77 364.52,139.62 365.13,139.44 365.73,139.34 366.33,139.25 366.93,139.22 367.53,139.17 368.13,139.05 368.73,138.91 369.33,138.72 369.93,138.54 370.53,138.35 371.14,138.14 371.74,137.93 372.34,137.71 372.94,137.47 373.54,137.39 374.14,137.29 374.74,137.17 375.34,137.00 375.94,136.72 376.54,136.42 377.15,136.10 377.75,135.71 378.35,135.27 378.95,134.83 379.55,134.40 380.15,134.18 380.75,133.98 381.35,133.86 381.95,133.67 382.56,133.35 383.16,132.99 383.76,132.59 384.36,132.33 384.96,132.12 385.56,131.93 386.16,131.73 386.76,131.38 387.36,131.03 387.96,130.70 388.57,130.44 389.17,130.29 389.77,130.18 390.37,130.08 390.97,129.91 391.57,129.71 392.17,129.51 392.77,129.32 393.37,129.21 393.97,129.08 394.58,128.91 395.18,128.71 395.78,128.47 396.38,128.25 396.98,128.04 397.58,127.81 398.18,127.57 398.78,127.24 399.38,126.91 399.98,126.65 400.59,126.45 401.19,126.39 401.79,126.30 402.39,126.18 402.99,125.98 403.59,125.74 404.19,125.49 404.79,125.24 405.39,125.04 405.99,124.86 406.60,124.79 407.20,124.72 407.80,124.66 408.40,124.56 409.00,124.43 409.60,124.22 410.20,123.96 410.80,123.67 411.40,123.37 412.00,123.22 412.61,123.08 413.21,122.99 413.81,122.86 414.41,122.67 415.01,122.45 415.61,122.20 416.21,122.01 416.81,121.83 417.41,121.72 418.01,121.61 418.62,121.53 419.22,121.45 419.82,121.37 420.42,121.23 421.02,120.97 421.62,120.73 422.22,120.48 422.82,120.39 423.42,120.36 424.02,120.21 424.63,120.04 425.23,119.80 425.83,119.60 426.43,119.51 427.03,119.40 427.63,119.30 428.23,119.15 428.83,118.97 429.43,118.81 430.04,118.65 430.64,118.59 431.24,118.54 431.84,118.49 432.44,118.42 433.04,118.26 433.64,118.11 434.24,117.97 434.84,117.83 435.44,117.69 436.05,117.50 436.65,117.30 437.25,117.11 437.85,116.95 438.45,116.86 439.05,116.78 439.65,116.71 440.25,116.60 440.85,116.43 441.45,116.25 442.06,116.07 442.66,115.94 443.26,115.82 443.86,115.76 444.46,115.72 445.06,115.72 445.66,115.70 446.26,115.62 446.86,115.53 447.46,115.44 448.07,115.39 448.67,115.36 449.27,115.25 449.87,115.14 450.47,115.02 451.07,114.93 451.67,114.89 452.27,114.85 452.87,114.81 453.47,114.71 454.08,114.55 454.68,114.33 455.28,114.08 455.88,113.87 456.48,113.66 457.08,113.55 457.68,113.47 458.28,113.44 458.88,113.42 459.48,113.39 460.09,113.31 460.69,113.21 461.29,113.07 461.89,112.92 462.49,112.78 463.09,112.64 463.69,112.45 464.29,112.27 464.89,112.11 465.49,112.05 466.10,112.10 466.70,112.15 467.30,112.20 467.90,112.10 468.50,111.97" fill="none" stroke="#ff1a1a" stroke-width="1.3" stroke-linejoin="round" stroke-linecap="round"/>
<polyline points="290.60,130.34 291.20,131.61 291.80,134.44 292.40,138.70 293.00,140.91 293.61,142.18 294.21,144.94 294.81,146.70 295.41,146.73 296.01,146.05 296.61,145.53 297.21,145.46 297.81,145.62 298.41,146.68 299.01,148.49 299.62,148.38 300.22,147.83 300.82,147.69 301.42,148.08 302.02,148.40 302.62,147.13 303.22,147.14 303.82,147.28 304.42,147.04 305.02,148.46 305.63,150.49 306.23,150.03 306.83,149.58 307.43,148.87 308.03,148.12 308.63,149.35 309.23,149.07 309.83,148.81 310.43,150.15 311.03,149.79 311.64,149.58 312.24,149.85 312.84,150.10 313.44,150.79 314.04,150.18 314.64,149.88 315.24,150.36 315.84,149.77 316.44,148.69 317.04,149.21 317.65,149.60 318.25,149.96 318.85,149.75 319.45,148.94 320.05,148.74 320.65,149.77 321.25,150.59 321.85,150.00 322.45,148.97 323.05,148.45 323.66,148.52 324.26,148.18 324.86,148.89 325.46,150.77 326.06,151.59 326.66,150.27 327.26,149.10 327.86,148.75 328.46,147.95 329.06,147.38 329.67,148.05 330.27,149.09 330.87,149.15 331.47,149.07 332.07,149.33 332.67,148.50 333.27,148.74 333.87,149.50 334.47,149.30 335.08,148.54 335.68,147.92 336.28,148.20 336.88,148.77 337.48,148.46 338.08,148.10 338.68,148.12 339.28,149.43 339.88,149.83 340.48,147.88 341.09,146.57 341.69,147.20 342.29,148.09 342.89,147.06 343.49,145.79 344.09,146.94 344.69,148.24 345.29,147.38 345.89,145.13 346.49,145.00 347.10,145.65 347.70,146.57 348.30,146.78 348.90,147.03 349.50,147.17 350.10,146.06 350.70,145.58 351.30,145.89 351.90,146.86 352.50,147.41 353.11,146.87 353.71,147.28 354.31,147.69 354.91,147.51 355.51,147.91 356.11,148.09 356.71,147.04 357.31,145.31 357.91,144.54 358.51,146.04 359.12,146.12 359.72,145.17 360.32,145.14 360.92,144.39 361.52,145.05 362.12,146.42 362.72,145.72 363.32,144.79 363.92,145.45 364.52,145.36 365.13,143.84 365.73,143.67 366.33,143.51 366.93,143.43 367.53,144.52 368.13,143.80 368.73,143.37 369.33,144.34 369.93,143.65 370.53,141.51 371.14,141.81 371.74,141.99 372.34,141.48 372.94,141.24 373.54,140.18 374.14,140.62 374.74,141.71 375.34,141.76 375.94,142.26 376.54,142.21 377.15,139.42 377.75,139.01 378.35,139.92 378.95,139.47 379.55,138.26 380.15,139.05 380.75,140.69 381.35,141.51 381.95,142.37 382.56,142.19 383.16,141.02 383.76,140.76 384.36,139.91 384.96,138.40 385.56,138.37 386.16,139.14 386.76,139.70 387.36,140.11 387.96,139.82 388.57,140.53 389.17,140.92 389.77,140.25 390.37,139.05 390.97,139.47 391.57,140.16 392.17,140.82 392.77,140.88 393.37,138.91 393.97,137.30 394.58,138.69 395.18,139.59 395.78,139.32 396.38,139.03 396.98,138.90 397.58,138.97 398.18,139.33 398.78,140.18 399.38,140.86 399.98,140.90 400.59,140.63 401.19,140.30 401.79,139.81 402.39,139.52 402.99,140.44 403.59,140.74 404.19,139.60 404.79,138.04 405.39,138.06 405.99,138.74 406.60,139.03 407.20,139.28 407.80,139.72 408.40,140.56 409.00,138.07 409.60,137.89 410.20,139.55 410.80,139.55 411.40,139.79 412.00,140.61 412.61,140.08 413.21,139.00 413.81,138.50 414.41,138.14 415.01,137.93 415.61,139.16 416.21,140.51 416.81,140.77 417.41,139.53 418.01,139.41 418.62,139.43 419.22,139.89 419.82,140.26 420.42,140.11 421.02,139.69 421.62,138.84 422.22,139.30 422.82,140.08 423.42,139.71 424.02,139.04 424.63,137.61 425.23,137.30 425.83,138.72 426.43,139.77 427.03,140.45 427.63,140.74 428.23,140.48 428.83,139.87 429.43,139.31 430.04,139.58 430.64,140.10 431.24,139.28 431.84,138.14 432.44,137.78 433.04,137.78 433.64,138.39 434.24,138.54 434.84,137.88 435.44,138.80 436.05,138.45 436.65,137.88 437.25,138.34 437.85,138.49 438.45,139.26 439.05,139.78 439.65,140.30 440.25,140.38 440.85,139.92 441.45,139.34 442.06,139.63 442.66,139.22 443.26,137.93 443.86,138.38 444.46,139.43 445.06,139.44 445.66,139.17 446.26,139.95 446.86,139.04 447.46,137.87 448.07,139.40 448.67,139.19 449.27,138.93 449.87,138.97 450.47,139.73 451.07,139.18 451.67,138.72 452.27,139.56 452.87,139.75 453.47,139.25 454.08,138.93 454.68,139.40 455.28,139.75 455.88,139.59 456.48,140.21 457.08,141.29 457.68,140.66 458.28,139.99 458.88,139.12 459.48,140.07 460.09,139.92 460.69,138.64 461.29,138.29 461.89,138.85 462.49,140.00 463.09,139.22 463.69,138.34 464.29,138.83 464.89,139.42 465.49,139.76 466.10,139.08 466.70,138.67 467.30,139.95 467.90,140.07 468.50,139.15" fill="none" stroke="#1414f5" stroke-width="1.3" stroke-linejoin="round" stroke-linecap="round"/>
<polyline points="290.60,19.60 291.20,19.60 291.80,19.60 292.40,25.43 293.00,41.73 293.61,48.62 294.21,52.92 294.81,56.45 295.41,59.42 296.01,62.07 296.61,64.39 297.21,66.51 297.81,68.56 298.41,70.36 299.01,72.01 299.62,73.67 300.22,75.48 300.82,77.66 301.42,80.18 302.02,82.76 302.62,85.23 303.22,87.66 303.82,90.07 304.42,92.40 305.02,94.39 305.63,96.18 306.23,97.77 306.83,99.16 307.43,100.52 308.03,101.84 308.63,103.11 309.23,104.32 309.83,105.34 310.43,106.28 311.03,107.22 311.64,108.12 312.24,109.00 312.84,109.78 313.44,110.44 314.04,111.09 314.64,111.72 315.24,112.44 315.84,113.17 316.44,113.86 317.04,114.52 317.65,115.05 318.25,115.55 318.85,116.01 319.45,116.49 320.05,116.98 320.65,117.45 321.25,117.91 321.85,118.33 322.45,118.72 323.05,119.15 323.66,119.55 324.26,119.84 324.86,120.11 325.46,120.35 326.06,120.66 326.66,121.03 327.26,121.30 327.86,121.53 328.46,121.68 329.06,121.82 329.67,122.06 330.27,122.30 330.87,122.50 331.47,122.66 332.07,122.75 332.67,122.90 333.27,123.09 333.87,123.38 334.47,123.69 335.08,123.87 335.68,124.03 336.28,124.14 336.88,124.25 337.48,124.39 338.08,124.52 338.68,124.65 339.28,124.75 339.88,124.84 340.48,124.93 341.09,125.03 341.69,125.17 342.29,125.32 342.89,125.41 343.49,125.51 344.09,125.62 344.69,125.77 345.29,125.94 345.89,126.03 346.49,126.07 347.10,126.10 347.70,126.12 348.30,126.32 348.90,126.52 349.50,126.73 350.10,126.92 350.70,127.05 351.30,127.16 351.90,127.26 352.50,127.30 353.11,127.31 353.71,127.37 354.31,127.43 354.91,127.61 355.51,127.75 356.11,127.80 356.71,127.84 357.31,127.86 357.91,127.93 358.51,128.06 359.12,128.19 359.72,128.33 360.32,128.46 360.92,128.60 361.52,128.69 362.12,128.75 362.72,128.69 363.32,128.64 363.92,128.60 364.52,128.68 365.13,128.86 365.73,129.04 366.33,129.23 366.93,129.30 367.53,129.36 368.13,129.37 368.73,129.39 369.33,129.40 369.93,129.40 370.53,129.41 371.14,129.42 371.74,129.43 372.34,129.51 372.94,129.60 373.54,129.70 374.14,129.79 374.74,129.89 375.34,130.02 375.94,130.19 376.54,130.36 377.15,130.53 377.75,130.63 378.35,130.68 378.95,130.72 379.55,130.76 380.15,130.93 380.75,131.09 381.35,131.22 381.95,131.29 382.56,131.27 383.16,131.30 383.76,131.38 384.36,131.50 384.96,131.64 385.56,131.73 386.16,131.81 386.76,131.88 387.36,131.96 387.96,132.07 388.57,132.22 389.17,132.42 389.77,132.56 390.37,132.66 390.97,132.69 391.57,132.70 392.17,132.79 392.77,132.89 393.37,133.06 393.97,133.23 394.58,133.39 395.18,133.53 395.78,133.66 396.38,133.72 396.98,133.76 397.58,133.84 398.18,133.93 398.78,134.09 399.38,134.24 399.98,134.30 400.59,134.38 401.19,134.53 401.79,134.71 402.39,134.94 402.99,135.14 403.59,135.33 404.19,135.60 404.79,135.88 405.39,136.13 405.99,136.35 406.60,136.44 407.20,136.53 407.80,136.60 408.40,136.69 409.00,136.81 409.60,136.95 410.20,137.10 410.80,137.29 411.40,137.50 412.00,137.71 412.61,137.91 413.21,138.03 413.81,138.18 414.41,138.36 415.01,138.55 415.61,138.72 416.21,138.88 416.81,139.03 417.41,139.25 418.01,139.47 418.62,139.67 419.22,139.85 419.82,139.95 420.42,140.04 421.02,140.09 421.62,140.15 422.22,140.23 422.82,140.41 423.42,140.61 424.02,140.89 424.63,141.17 425.23,141.39 425.83,141.59 426.43,141.72 427.03,141.87 427.63,142.04 428.23,142.23 428.83,142.42 429.43,142.53 430.04,142.62 430.64,142.81 431.24,143.01 431.84,143.23 432.44,143.41 433.04,143.49 433.64,143.57 434.24,143.67 434.84,143.81 435.44,143.98 436.05,144.15 436.65,144.31 437.25,144.47 437.85,144.62 438.45,144.72 439.05,144.83 439.65,144.98 440.25,145.14 440.85,145.32 441.45,145.44 442.06,145.55 442.66,145.70 443.26,145.85 443.86,146.05 444.46,146.23 445.06,146.38 445.66,146.48 446.26,146.50 446.86,146.54 447.46,146.59 448.07,146.69 448.67,146.80 449.27,146.83 449.87,146.84 450.47,146.87 451.07,146.93 451.67,147.11 452.27,147.29 452.87,147.47 453.47,147.53 454.08,147.50 454.68,147.48 455.28,147.46 455.88,147.55 456.48,147.66 457.08,147.80 457.68,147.93 458.28,148.02 458.88,148.06 459.48,148.02 460.09,147.99 460.69,147.96 461.29,148.01 461.89,148.09 462.49,148.18 463.09,148.25 463.69,148.23 464.29,148.19 464.89,148.15 465.49,148.15 466.10,148.19 466.70,148.26 467.30,148.36 467.90,148.39 468.50,148.41" fill="none" stroke="#222222" stroke-width="1.1" stroke-linejoin="round" stroke-linecap="round"/>
</g>
<rect x="290.60" y="22.60" width="177.90" height="130.90" fill="none" stroke="#2c2c2c" stroke-width="1.35"/>
<line x1="305.43" y1="153.50" x2="305.43" y2="151.90" stroke="#2c2c2c" stroke-width="0.8"/>
<line x1="320.25" y1="153.50" x2="320.25" y2="151.30" stroke="#2c2c2c" stroke-width="0.8"/>
<line x1="335.08" y1="153.50" x2="335.08" y2="151.90" stroke="#2c2c2c" stroke-width="0.8"/>
<line x1="349.90" y1="153.50" x2="349.90" y2="151.30" stroke="#2c2c2c" stroke-width="0.8"/>
<line x1="364.73" y1="153.50" x2="364.73" y2="151.90" stroke="#2c2c2c" stroke-width="0.8"/>
<line x1="379.55" y1="153.50" x2="379.55" y2="151.30" stroke="#2c2c2c" stroke-width="0.8"/>
<line x1="394.38" y1="153.50" x2="394.38" y2="151.90" stroke="#2c2c2c" stroke-width="0.8"/>
<line x1="409.20" y1="153.50" x2="409.20" y2="151.30" stroke="#2c2c2c" stroke-width="0.8"/>
<line x1="424.02" y1="153.50" x2="424.02" y2="151.90" stroke="#2c2c2c" stroke-width="0.8"/>
<line x1="438.85" y1="153.50" x2="438.85" y2="151.30" stroke="#2c2c2c" stroke-width="0.8"/>
<line x1="453.67" y1="153.50" x2="453.67" y2="151.90" stroke="#2c2c2c" stroke-width="0.8"/>
<line x1="290.60" y1="140.41" x2="292.20" y2="140.41" stroke="#2c2c2c" stroke-width="0.8"/>
<line x1="290.60" y1="127.32" x2="292.80" y2="127.32" stroke="#2c2c2c" stroke-width="0.8"/>
<line x1="290.60" y1="114.23" x2="292.20" y2="114.23" stroke="#2c2c2c" stroke-width="0.8"/>
<line x1="290.60" y1="101.14" x2="292.80" y2="101.14" stroke="#2c2c2c" stroke-width="0.8"/>
<line x1="290.60" y1="88.05" x2="292.20" y2="88.05" stroke="#2c2c2c" stroke-width="0.8"/>
<line x1="290.60" y1="74.96" x2="292.80" y2="74.96" stroke="#2c2c2c" stroke-width="0.8"/>
<line x1="290.60" y1="61.87" x2="292.20" y2="61.87" stroke="#2c2c2c" stroke-width="0.8"/>
<line x1="290.60" y1="48.78" x2="292.80" y2="48.78" stroke="#2c2c2c" stroke-width="0.8"/>
<line x1="290.60" y1="35.69" x2="292.20" y2="35.69" stroke="#2c2c2c" stroke-width="0.8"/>
<text x="290.90" y="163.20" class="tk" text-anchor="middle">0</text>
<text x="320.55" y="163.20" class="tk" text-anchor="middle">20</text>
<text x="350.20" y="163.20" class="tk" text-anchor="middle">40</text>
<text x="379.85" y="163.20" class="tk" text-anchor="middle">60</text>
<text x="409.50" y="163.20" class="tk" text-anchor="middle">80</text>
<text x="439.15" y="163.20" class="tk" text-anchor="middle">100</text>
<text x="468.80" y="163.20" class="tk" text-anchor="middle">120</text>
<text x="287.80" y="155.60" class="tk" text-anchor="end">0</text>
<text x="287.80" y="129.42" class="tk" text-anchor="end">2</text>
<text x="287.80" y="103.24" class="tk" text-anchor="end">4</text>
<text x="287.80" y="77.06" class="tk" text-anchor="end">6</text>
<text x="287.80" y="50.88" class="tk" text-anchor="end">8</text>
<text x="287.80" y="24.70" class="tk" text-anchor="end">10</text>
<text x="263.60" y="12.30" class="pl" text-anchor="start">(b)</text>
<text x="274.10" y="93.80" class="yl" text-anchor="middle" transform="rotate(-90 274.10 93.80)">Mass concentration (%)</text>
<text x="377.00" y="174.70" class="xl" text-anchor="middle">Depth (&#181;m)</text>
<text x="300.70" y="31.00" class="lg" fill="#2ed82e" stroke="#2ed82e">Mn - (5&#215;)</text>
<text x="300.70" y="39.20" class="lg" fill="#ff2e2e" stroke="#ff2e2e">Cu&#160; - (5&#215;)</text>
<text x="300.70" y="47.40" class="lg" fill="#2e62ff" stroke="#2e62ff">Fe&#160; -&#160; (5&#215;)</text>
<text x="406.40" y="33.00" class="ann" text-anchor="start">After Brazing</text>
<text x="443.90" y="39.30" class="el" text-anchor="start">Mn</text>
<text x="400.80" y="83.20" class="ann" text-anchor="start">Core layer</text>
<text x="301.20" y="70.10" class="ann" text-anchor="start">Re-solidified</text>
<text x="303.90" y="82.80" class="ann" text-anchor="start">clad layer</text>
<text x="307.20" y="95.30" class="si" text-anchor="start">Si</text>
<text x="445.00" y="111.40" class="el" text-anchor="start">Cu</text>
<text x="446.80" y="135.10" class="el" text-anchor="start">Fe</text>
<clipPath id="clip2"><rect x="41.30" y="204.60" width="181.20" height="133.40"/></clipPath>
<g clip-path="url(#clip2)">
<line x1="134.33" y1="204.60" x2="134.33" y2="338.00" stroke="#f4506e" stroke-width="0.9" stroke-dasharray="1.1,1.4"/>
<polyline points="41.30,332.07 41.90,332.35 42.50,332.75 43.10,333.23 43.70,334.26 44.30,335.15 44.90,335.25 45.50,335.23 46.10,335.10 46.70,334.93 47.30,334.89 47.90,334.88 48.50,335.15 49.10,335.38 49.70,335.47 50.30,335.45 50.90,335.24 51.50,335.09 52.10,334.98 52.70,334.96 53.30,334.98 53.90,335.06 54.50,335.14 55.10,335.28 55.70,335.41 56.30,335.50 56.90,335.58 57.50,335.66 58.10,335.67 58.70,335.62 59.30,335.50 59.90,335.36 60.50,335.26 61.10,335.16 61.70,335.07 62.30,335.02 62.90,335.12 63.50,335.22 64.10,335.32 64.70,335.28 65.30,335.14 65.90,335.03 66.50,334.93 67.10,335.06 67.70,335.21 68.30,335.36 68.90,335.44 69.50,335.32 70.10,335.22 70.70,335.14 71.30,335.19 71.90,335.33 72.50,335.39 73.10,335.42 73.70,335.32 74.30,335.22 74.90,335.27 75.50,335.35 76.10,335.47 76.70,335.54 77.30,335.55 77.90,335.53 78.50,335.48 79.10,335.41 79.70,335.34 80.30,335.26 80.90,335.18 81.50,335.12 82.10,335.10 82.70,335.19 83.30,335.31 83.90,335.45 84.50,335.44 85.10,335.34 85.70,335.23 86.30,335.11 86.90,335.10 87.50,335.10 88.10,335.14 88.70,335.21 89.30,335.34 89.90,335.43 90.50,335.45 91.10,335.42 91.70,335.36 92.30,335.46 92.90,335.61 93.50,335.66 94.10,335.68 94.70,335.51 95.30,335.40 95.90,335.40 96.50,335.44 97.10,335.53 97.70,335.61 98.30,335.69 98.90,335.74 99.50,335.77 100.10,335.72 100.70,335.65 101.30,335.54 101.90,335.47 102.50,335.49 103.10,335.53 103.70,335.60 104.30,335.58 104.90,335.51 105.50,335.53 106.10,335.56 106.70,335.56 107.30,335.53 107.90,335.40 108.50,335.33 109.10,335.39 109.70,335.42 110.30,335.44 110.90,335.36 111.50,335.24 112.10,335.26 112.70,335.30 113.30,335.33 113.90,335.33 114.50,335.22 115.10,335.15 115.70,335.13 116.30,335.14 116.90,335.19 117.50,335.23 118.10,335.26 118.70,335.27 119.30,335.28 119.90,335.27 120.50,335.28 121.10,335.35 121.70,335.38 122.30,335.32 122.90,335.21 123.50,335.06 124.10,335.05 124.70,335.10 125.30,335.10 125.90,335.09 126.50,334.99 127.10,334.94 127.70,335.07 128.30,335.19 128.90,335.31 129.50,335.36 130.10,335.36 130.70,335.35 131.30,335.35 131.90,335.22 132.50,335.10 133.10,335.06 133.70,335.07 134.30,335.23 134.90,335.34 135.50,335.38 136.10,335.35 136.70,335.27 137.30,335.27 137.90,335.28 138.50,335.29 139.10,335.31 139.70,335.31 140.30,335.34 140.90,335.42 141.50,335.44 142.10,335.40 142.70,335.31 143.30,335.20 143.90,334.50 144.50,333.07 145.10,329.50 145.70,325.99 146.30,322.58 146.90,318.66 147.50,314.57 148.10,310.85 148.70,307.83 149.30,305.59 149.90,303.71 150.50,301.79 151.10,299.93 151.70,297.85 152.30,295.59 152.90,293.12 153.50,290.85 154.10,288.98 154.70,287.14 155.30,285.12 155.90,282.77 156.50,280.42 157.10,278.56 157.70,276.94 158.30,275.66 158.90,274.52 159.50,273.71 160.10,272.84 160.70,271.79 161.30,270.58 161.90,269.18 162.50,267.90 163.10,266.67 163.70,265.61 164.30,264.61 164.90,263.63 165.50,262.65 166.10,261.57 166.70,260.52 167.30,259.52 167.90,258.60 168.50,257.78 169.10,256.98 169.70,256.22 170.30,255.51 170.90,254.85 171.50,254.23 172.10,253.62 172.70,252.95 173.30,252.32 173.90,251.75 174.50,251.18 175.10,250.60 175.70,249.92 176.30,249.18 176.90,248.61 177.50,248.06 178.10,247.55 178.70,247.07 179.30,246.62 179.90,246.09 180.50,245.40 181.10,244.63 181.70,243.77 182.30,243.37 182.90,243.16 183.50,243.00 184.10,242.84 184.70,242.22 185.30,241.56 185.90,240.63 186.50,239.78 187.10,238.99 187.70,238.52 188.30,238.28 188.90,238.20 189.50,238.17 190.10,238.04 190.70,237.87 191.30,237.35 191.90,236.76 192.50,235.98 193.10,235.36 193.70,234.97 194.30,234.78 194.90,234.75 195.50,234.51 196.10,234.20 196.70,233.97 197.30,233.77 197.90,233.75 198.50,233.64 199.10,233.32 199.70,233.12 200.30,233.07 200.90,233.02 201.50,232.95 202.10,232.36 202.70,231.62 203.30,231.10 203.90,230.66 204.50,230.78 205.10,230.79 205.70,230.52 206.30,230.03 206.90,229.30 207.50,228.77 208.10,228.36 208.70,228.01 209.30,227.68 209.90,227.49 210.50,227.34 211.10,227.39 211.70,227.37 212.30,227.19 212.90,227.03 213.50,226.89 214.10,226.78 214.70,226.69 215.30,226.50 215.90,226.30 216.50,225.98 217.10,225.66 217.70,225.33 218.30,225.12 218.90,225.14 219.50,225.20 220.10,225.31 220.70,225.27 221.30,225.15 221.90,224.97 222.50,224.77" fill="none" stroke="#1ee81e" stroke-width="1.3" stroke-linejoin="round" stroke-linecap="round"/>
<polyline points="41.30,315.50 41.90,315.69 42.50,316.24 43.10,317.33 43.70,321.92 44.30,327.02 44.90,329.02 45.50,330.20 46.10,330.70 46.70,330.70 47.30,330.62 47.90,330.53 48.50,330.57 49.10,330.64 49.70,330.82 50.30,330.94 50.90,330.97 51.50,330.95 52.10,330.89 52.70,330.94 53.30,331.05 53.90,331.16 54.50,331.27 55.10,331.26 55.70,331.24 56.30,331.19 56.90,331.14 57.50,331.11 58.10,331.08 58.70,331.07 59.30,331.07 59.90,331.07 60.50,331.16 61.10,331.25 61.70,331.32 62.30,331.36 62.90,331.32 63.50,331.26 64.10,331.19 64.70,331.18 65.30,331.23 65.90,331.26 66.50,331.29 67.10,331.20 67.70,331.10 68.30,331.13 68.90,331.19 69.50,331.34 70.10,331.46 70.70,331.54 71.30,331.57 71.90,331.56 72.50,331.51 73.10,331.43 73.70,331.39 74.30,331.37 74.90,331.41 75.50,331.45 76.10,331.48 76.70,331.49 77.30,331.50 77.90,331.48 78.50,331.44 79.10,331.33 79.70,331.20 80.30,331.20 80.90,331.22 81.50,331.40 82.10,331.52 82.70,331.53 83.30,331.49 83.90,331.40 84.50,331.36 85.10,331.36 85.70,331.40 86.30,331.45 86.90,331.48 87.50,331.50 88.10,331.47 88.70,331.42 89.30,331.34 89.90,331.29 90.50,331.28 91.10,331.29 91.70,331.31 92.30,331.31 92.90,331.30 93.50,331.38 94.10,331.45 94.70,331.50 95.30,331.49 95.90,331.37 96.50,331.28 97.10,331.23 97.70,331.21 98.30,331.21 98.90,331.13 99.50,331.03 100.10,331.05 100.70,331.10 101.30,331.26 101.90,331.36 102.50,331.32 103.10,331.19 103.70,330.98 104.30,330.90 104.90,330.89 105.50,331.06 106.10,331.25 106.70,331.34 107.30,331.41 107.90,331.36 108.50,331.33 109.10,331.33 109.70,331.32 110.30,331.33 110.90,331.29 111.50,331.24 112.10,331.25 112.70,331.27 113.30,331.22 113.90,331.14 114.50,331.01 115.10,330.93 115.70,330.93 116.30,330.91 116.90,330.87 117.50,330.78 118.10,330.67 118.70,330.64 119.30,330.63 119.90,330.68 120.50,330.72 121.10,330.76 121.70,330.75 122.30,330.67 122.90,330.54 123.50,330.38 124.10,330.34 124.70,330.35 125.30,330.43 125.90,330.51 126.50,330.40 127.10,330.27 127.70,330.10 128.30,329.94 128.90,329.80 129.50,329.64 130.10,329.47 130.70,329.41 131.30,329.39 131.90,329.46 132.50,329.53 133.10,329.54 133.70,329.53 134.30,329.46 134.90,329.36 135.50,329.21 136.10,329.00 136.70,328.75 137.30,328.56 137.90,328.37 138.50,328.46 139.10,328.57 139.70,328.70 140.30,328.75 140.90,328.57 141.50,328.38 142.10,328.18 142.70,328.05 143.30,327.96 143.90,327.81 144.50,327.63 145.10,327.36 145.70,327.06 146.30,326.75 146.90,326.41 147.50,326.09 148.10,325.72 148.70,325.32 149.30,324.87 149.90,324.41 150.50,324.05 151.10,323.76 151.70,323.56 152.30,323.38 152.90,323.17 153.50,322.94 154.10,322.64 154.70,322.35 155.30,322.08 155.90,321.90 156.50,321.76 157.10,321.51 157.70,321.25 158.30,320.98 158.90,320.74 159.50,320.60 160.10,320.46 160.70,320.34 161.30,320.19 161.90,319.99 162.50,319.71 163.10,319.38 163.70,319.12 164.30,318.87 164.90,318.84 165.50,318.81 166.10,318.79 166.70,318.70 167.30,318.47 167.90,318.16 168.50,317.78 169.10,317.50 169.70,317.28 170.30,317.17 170.90,317.09 171.50,317.02 172.10,316.97 172.70,316.94 173.30,316.89 173.90,316.80 174.50,316.66 175.10,316.48 175.70,316.37 176.30,316.27 176.90,316.19 177.50,316.09 178.10,315.82 178.70,315.57 179.30,315.41 179.90,315.34 180.50,315.41 181.10,315.40 181.70,315.32 182.30,315.14 182.90,314.93 183.50,314.87 184.10,314.83 184.70,314.76 185.30,314.63 185.90,314.34 186.50,314.09 187.10,313.92 187.70,313.76 188.30,313.60 188.90,313.39 189.50,313.16 190.10,313.12 190.70,313.09 191.30,313.10 191.90,313.07 192.50,312.97 193.10,312.88 193.70,312.81 194.30,312.71 194.90,312.57 195.50,312.41 196.10,312.23 196.70,312.14 197.30,312.06 197.90,311.90 198.50,311.71 199.10,311.47 199.70,311.28 200.30,311.16 200.90,311.09 201.50,311.04 202.10,310.98 202.70,310.92 203.30,310.80 203.90,310.69 204.50,310.58 205.10,310.47 205.70,310.39 206.30,310.31 206.90,310.25 207.50,310.24 208.10,310.28 208.70,310.31 209.30,310.32 209.90,310.26 210.50,310.18 211.10,310.02 211.70,309.83 212.30,309.59 212.90,309.41 213.50,309.29 214.10,309.27 214.70,309.29 215.30,309.27 215.90,309.23 216.50,309.17 217.10,309.11 217.70,309.09 218.30,309.05 218.90,308.97 219.50,308.89 220.10,308.79 220.70,308.72 221.30,308.66 221.90,308.52 222.50,308.37" fill="none" stroke="#ff1a1a" stroke-width="1.3" stroke-linejoin="round" stroke-linecap="round"/>
<polyline points="41.30,314.05 41.90,314.62 42.50,315.43 43.10,315.89 43.70,319.80 44.30,323.65 44.90,325.30 45.50,327.15 46.10,326.54 46.70,325.67 47.30,327.14 47.90,326.96 48.50,325.96 49.10,325.63 49.70,326.37 50.30,327.34 50.90,326.86 51.50,326.89 52.10,328.60 52.70,328.28 53.30,326.56 53.90,326.10 54.50,326.88 55.10,326.49 55.70,325.86 56.30,326.27 56.90,326.34 57.50,326.87 58.10,327.27 58.70,327.51 59.30,327.46 59.90,327.27 60.50,327.02 61.10,326.29 61.70,327.14 62.30,327.96 62.90,327.35 63.50,326.61 64.10,326.44 64.70,326.64 65.30,327.32 65.90,327.99 66.50,327.71 67.10,327.14 67.70,327.13 68.30,326.44 68.90,327.93 69.50,329.04 70.10,328.28 70.70,326.33 71.30,325.40 71.90,327.00 72.50,327.46 73.10,327.05 73.70,326.29 74.30,326.54 74.90,326.96 75.50,327.11 76.10,327.12 76.70,326.16 77.30,326.87 77.90,328.14 78.50,328.16 79.10,327.34 79.70,326.98 80.30,327.63 80.90,326.99 81.50,326.49 82.10,326.28 82.70,325.85 83.30,326.10 83.90,326.16 84.50,326.22 85.10,327.32 85.70,327.20 86.30,327.28 86.90,328.31 87.50,329.07 88.10,328.74 88.70,327.84 89.30,327.76 89.90,327.35 90.50,326.69 91.10,327.44 91.70,328.23 92.30,328.62 92.90,328.49 93.50,327.84 94.10,327.90 94.70,328.55 95.30,328.33 95.90,327.58 96.50,326.14 97.10,326.14 97.70,327.92 98.30,329.28 98.90,329.33 99.50,328.17 100.10,327.63 100.70,327.80 101.30,327.58 101.90,326.78 102.50,327.07 103.10,328.01 103.70,327.73 104.30,327.53 104.90,328.56 105.50,329.23 106.10,328.84 106.70,326.52 107.30,325.85 107.90,326.81 108.50,327.08 109.10,328.00 109.70,328.03 110.30,327.72 110.90,327.06 111.50,327.51 112.10,327.68 112.70,327.17 113.30,327.47 113.90,326.86 114.50,326.66 115.10,326.70 115.70,327.44 116.30,327.56 116.90,325.48 117.50,325.12 118.10,326.53 118.70,328.06 119.30,328.24 119.90,327.98 120.50,327.32 121.10,327.55 121.70,328.47 122.30,328.67 122.90,327.87 123.50,327.93 124.10,327.51 124.70,326.73 125.30,328.19 125.90,328.40 126.50,326.56 127.10,325.26 127.70,326.67 128.30,327.79 128.90,327.28 129.50,327.06 130.10,326.15 130.70,325.77 131.30,326.51 131.90,326.24 132.50,326.17 133.10,327.01 133.70,327.03 134.30,327.63 134.90,327.81 135.50,327.76 136.10,328.67 136.70,329.12 137.30,327.38 137.90,325.44 138.50,325.49 139.10,326.33 139.70,327.32 140.30,327.49 140.90,327.99 141.50,328.41 142.10,327.76 142.70,327.91 143.30,327.85 143.90,327.17 144.50,326.66 145.10,326.93 145.70,327.37 146.30,327.35 146.90,327.71 147.50,327.53 148.10,326.51 148.70,325.95 149.30,327.04 149.90,328.07 150.50,327.58 151.10,327.20 151.70,327.40 152.30,326.93 152.90,326.71 153.50,327.12 154.10,325.94 154.70,325.92 155.30,326.57 155.90,326.59 156.50,326.30 157.10,326.72 157.70,327.49 158.30,327.40 158.90,326.90 159.50,326.40 160.10,326.64 160.70,328.50 161.30,329.02 161.90,328.01 162.50,326.73 163.10,325.32 163.70,326.00 164.30,326.58 164.90,326.62 165.50,326.86 166.10,327.19 166.70,326.43 167.30,325.50 167.90,325.43 168.50,325.82 169.10,326.16 169.70,325.85 170.30,325.29 170.90,325.51 171.50,326.51 172.10,326.12 172.70,325.19 173.30,325.62 173.90,324.89 174.50,324.30 175.10,325.15 175.70,324.77 176.30,324.17 176.90,324.94 177.50,326.04 178.10,327.32 178.70,326.72 179.30,325.52 179.90,325.82 180.50,326.97 181.10,327.21 181.70,326.77 182.30,325.74 182.90,323.81 183.50,322.68 184.10,324.10 184.70,326.36 185.30,328.06 185.90,327.63 186.50,325.58 187.10,324.44 187.70,324.36 188.30,324.60 188.90,324.31 189.50,324.29 190.10,325.73 190.70,326.28 191.30,324.90 191.90,323.50 192.50,324.41 193.10,325.65 193.70,325.40 194.30,325.15 194.90,325.01 195.50,324.85 196.10,324.73 196.70,324.45 197.30,324.85 197.90,325.23 198.50,324.99 199.10,324.55 199.70,324.72 200.30,325.24 200.90,325.68 201.50,325.11 202.10,324.90 202.70,324.58 203.30,325.51 203.90,326.20 204.50,325.75 205.10,325.86 205.70,325.22 206.30,324.46 206.90,324.49 207.50,324.62 208.10,324.79 208.70,324.84 209.30,324.28 209.90,324.30 210.50,325.15 211.10,325.22 211.70,324.41 212.30,324.48 212.90,324.80 213.50,323.32 214.10,322.54 214.70,323.66 215.30,324.46 215.90,325.72 216.50,325.37 217.10,324.04 217.70,323.74 218.30,324.58 218.90,324.60 219.50,324.27 220.10,324.53 220.70,324.96 221.30,324.72 221.90,323.10 222.50,322.22" fill="none" stroke="#1414f5" stroke-width="1.3" stroke-linejoin="round" stroke-linecap="round"/>
<polyline points="41.30,297.80 41.90,297.18 42.50,295.55 43.10,293.01 43.70,285.56 44.30,270.62 44.90,258.18 45.50,245.14 46.10,234.74 46.70,231.15 47.30,233.43 47.90,237.44 48.50,240.62 49.10,242.22 49.70,243.40 50.30,243.75 50.90,243.70 51.50,243.67 52.10,243.66 52.70,243.75 53.30,243.88 53.90,243.94 54.50,243.99 55.10,243.89 55.70,243.80 56.30,243.68 56.90,243.52 57.50,243.30 58.10,243.17 58.70,243.11 59.30,243.10 59.90,243.12 60.50,242.89 61.10,242.63 61.70,242.45 62.30,242.30 62.90,242.23 63.50,242.12 64.10,241.91 64.70,241.86 65.30,241.93 65.90,242.16 66.50,242.45 67.10,242.50 67.70,242.53 68.30,242.55 68.90,242.59 69.50,242.66 70.10,242.73 70.70,242.80 71.30,242.93 71.90,243.12 72.50,243.26 73.10,243.37 73.70,243.40 74.30,243.42 74.90,243.37 75.50,243.33 76.10,243.31 76.70,243.32 77.30,243.33 77.90,243.19 78.50,242.94 79.10,242.58 79.70,242.17 80.30,241.92 80.90,241.71 81.50,241.71 82.10,241.78 82.70,241.95 83.30,242.02 83.90,241.97 84.50,241.84 85.10,241.66 85.70,241.56 86.30,241.47 86.90,241.38 87.50,241.29 88.10,241.16 88.70,241.08 89.30,241.10 89.90,241.14 90.50,241.21 91.10,241.22 91.70,241.19 92.30,241.19 92.90,241.20 93.50,241.22 94.10,241.23 94.70,241.16 95.30,241.14 95.90,241.18 96.50,241.27 97.10,241.40 97.70,241.47 98.30,241.49 98.90,241.42 99.50,241.32 100.10,241.18 100.70,241.04 101.30,240.97 101.90,240.89 102.50,240.83 103.10,240.75 103.70,240.66 104.30,240.57 104.90,240.48 105.50,240.41 106.10,240.37 106.70,240.60 107.30,240.82 107.90,240.95 108.50,240.94 109.10,240.68 109.70,240.56 110.30,240.57 110.90,240.70 111.50,240.88 112.10,240.86 112.70,240.79 113.30,240.52 113.90,240.23 114.50,239.87 115.10,239.66 115.70,239.74 116.30,239.89 116.90,240.09 117.50,240.07 118.10,239.99 118.70,239.88 119.30,239.80 119.90,239.87 120.50,240.04 121.10,240.51 121.70,240.91 122.30,241.18 122.90,241.10 123.50,240.76 124.10,240.48 124.70,240.21 125.30,240.16 125.90,240.13 126.50,240.02 127.10,239.85 127.70,239.44 128.30,239.14 128.90,238.98 129.50,238.97 130.10,239.08 130.70,239.03 131.30,238.93 131.90,238.76 132.50,238.60 133.10,238.47 133.70,238.40 134.30,238.46 134.90,238.54 135.50,238.64 136.10,238.68 136.70,238.70 137.30,238.82 137.90,238.98 138.50,239.18 139.10,239.40 139.70,239.57 140.30,239.83 140.90,240.42 141.50,241.22 142.10,242.15 142.70,243.14 143.30,244.17 143.90,245.38 144.50,246.87 145.10,248.69 145.70,250.70 146.30,252.72 146.90,254.78 147.50,257.05 148.10,259.36 148.70,261.59 149.30,263.71 149.90,265.83 150.50,267.91 151.10,269.86 151.70,271.56 152.30,273.12 152.90,274.61 153.50,276.00 154.10,277.31 154.70,278.44 155.30,279.44 155.90,280.41 156.50,281.40 157.10,282.50 157.70,283.65 158.30,284.75 158.90,285.85 159.50,286.89 160.10,287.88 160.70,288.78 161.30,289.63 161.90,290.47 162.50,291.35 163.10,292.25 163.70,293.07 164.30,293.87 164.90,294.56 165.50,295.22 166.10,295.86 166.70,296.47 167.30,297.06 167.90,297.66 168.50,298.28 169.10,298.88 169.70,299.46 170.30,299.94 170.90,300.39 171.50,300.94 172.10,301.48 172.70,302.04 173.30,302.57 173.90,303.05 174.50,303.56 175.10,304.09 175.70,304.60 176.30,305.09 176.90,305.55 177.50,305.99 178.10,306.48 178.70,306.95 179.30,307.39 179.90,307.80 180.50,308.13 181.10,308.43 181.70,308.69 182.30,309.03 182.90,309.38 183.50,309.74 184.10,310.10 184.70,310.37 185.30,310.64 185.90,310.95 186.50,311.26 187.10,311.56 187.70,311.86 188.30,312.16 188.90,312.47 189.50,312.80 190.10,313.13 190.70,313.47 191.30,313.98 191.90,314.46 192.50,314.90 193.10,315.24 193.70,315.46 194.30,315.72 194.90,316.00 195.50,316.37 196.10,316.76 196.70,317.06 197.30,317.34 197.90,317.44 198.50,317.57 199.10,317.77 199.70,318.04 200.30,318.40 200.90,318.75 201.50,319.09 202.10,319.46 202.70,319.83 203.30,320.24 203.90,320.64 204.50,321.02 205.10,321.41 205.70,321.80 206.30,322.15 206.90,322.46 207.50,322.72 208.10,322.97 208.70,323.34 209.30,323.76 209.90,324.22 210.50,324.68 211.10,325.03 211.70,325.40 212.30,325.78 212.90,326.16 213.50,326.52 214.10,326.82 214.70,327.08 215.30,327.42 215.90,327.76 216.50,328.14 217.10,328.49 217.70,328.66 218.30,328.83 218.90,328.97 219.50,329.19 220.10,329.50 220.70,329.73 221.30,329.91 221.90,330.05 222.50,330.17" fill="none" stroke="#222222" stroke-width="1.1" stroke-linejoin="round" stroke-linecap="round"/>
</g>
<rect x="41.30" y="204.60" width="181.20" height="133.40" fill="none" stroke="#2c2c2c" stroke-width="1.35"/>
<line x1="57.48" y1="338.00" x2="57.48" y2="336.40" stroke="#2c2c2c" stroke-width="0.8"/>
<line x1="73.66" y1="338.00" x2="73.66" y2="335.80" stroke="#2c2c2c" stroke-width="0.8"/>
<line x1="89.84" y1="338.00" x2="89.84" y2="336.40" stroke="#2c2c2c" stroke-width="0.8"/>
<line x1="106.01" y1="338.00" x2="106.01" y2="335.80" stroke="#2c2c2c" stroke-width="0.8"/>
<line x1="122.19" y1="338.00" x2="122.19" y2="336.40" stroke="#2c2c2c" stroke-width="0.8"/>
<line x1="138.37" y1="338.00" x2="138.37" y2="335.80" stroke="#2c2c2c" stroke-width="0.8"/>
<line x1="154.55" y1="338.00" x2="154.55" y2="336.40" stroke="#2c2c2c" stroke-width="0.8"/>
<line x1="170.73" y1="338.00" x2="170.73" y2="335.80" stroke="#2c2c2c" stroke-width="0.8"/>
<line x1="186.91" y1="338.00" x2="186.91" y2="336.40" stroke="#2c2c2c" stroke-width="0.8"/>
<line x1="203.09" y1="338.00" x2="203.09" y2="335.80" stroke="#2c2c2c" stroke-width="0.8"/>
<line x1="219.26" y1="338.00" x2="219.26" y2="336.40" stroke="#2c2c2c" stroke-width="0.8"/>
<line x1="41.30" y1="324.66" x2="42.90" y2="324.66" stroke="#2c2c2c" stroke-width="0.8"/>
<line x1="41.30" y1="311.32" x2="43.50" y2="311.32" stroke="#2c2c2c" stroke-width="0.8"/>
<line x1="41.30" y1="297.98" x2="42.90" y2="297.98" stroke="#2c2c2c" stroke-width="0.8"/>
<line x1="41.30" y1="284.64" x2="43.50" y2="284.64" stroke="#2c2c2c" stroke-width="0.8"/>
<line x1="41.30" y1="271.30" x2="42.90" y2="271.30" stroke="#2c2c2c" stroke-width="0.8"/>
<line x1="41.30" y1="257.96" x2="43.50" y2="257.96" stroke="#2c2c2c" stroke-width="0.8"/>
<line x1="41.30" y1="244.62" x2="42.90" y2="244.62" stroke="#2c2c2c" stroke-width="0.8"/>
<line x1="41.30" y1="231.28" x2="43.50" y2="231.28" stroke="#2c2c2c" stroke-width="0.8"/>
<line x1="41.30" y1="217.94" x2="42.90" y2="217.94" stroke="#2c2c2c" stroke-width="0.8"/>
<text x="41.60" y="347.70" class="tk" text-anchor="middle">0</text>
<text x="73.96" y="347.70" class="tk" text-anchor="middle">20</text>
<text x="106.31" y="347.70" class="tk" text-anchor="middle">40</text>
<text x="138.67" y="347.70" class="tk" text-anchor="middle">60</text>
<text x="171.03" y="347.70" class="tk" text-anchor="middle">80</text>
<text x="203.39" y="347.70" class="tk" text-anchor="middle">100</text>
<text x="38.50" y="340.10" class="tk" text-anchor="end">0</text>
<text x="38.50" y="313.42" class="tk" text-anchor="end">2</text>
<text x="38.50" y="286.74" class="tk" text-anchor="end">4</text>
<text x="38.50" y="260.06" class="tk" text-anchor="end">6</text>
<text x="38.50" y="233.38" class="tk" text-anchor="end">8</text>
<text x="38.50" y="206.70" class="tk" text-anchor="end">10</text>
<text x="4.80" y="195.70" class="pl" text-anchor="start">(c)</text>
<text x="24.90" y="276.50" class="yl" text-anchor="middle" transform="rotate(-90 24.90 276.50)">Mass concentration (%)</text>
<text x="129.30" y="359.10" class="xl" text-anchor="middle">Depth (&#181;m)</text>
<text x="48.00" y="213.40" class="lg" fill="#2ed82e" stroke="#2ed82e">Mn - (5&#215;)</text>
<text x="48.00" y="221.60" class="lg" fill="#ff2e2e" stroke="#ff2e2e">Cu&#160; - (5&#215;)</text>
<text x="48.00" y="229.80" class="lg" fill="#2e62ff" stroke="#2e62ff">Fe&#160; -&#160; (5&#215;)</text>
<text x="151.70" y="215.30" class="ann" text-anchor="start">Before Brazing</text>
<text x="192.60" y="228.10" class="el" text-anchor="start">Mn</text>
<text x="166.80" y="277.20" class="ann" text-anchor="start">Core layer</text>
<text x="67.20" y="277.20" class="ann" text-anchor="start">Clad layer</text>
<text x="196.30" y="306.50" class="el" text-anchor="start">Cu</text>
<text x="196.50" y="322.70" class="el" text-anchor="start">Fe</text>
<text x="74.80" y="237.60" class="si" text-anchor="start">Si</text>
<clipPath id="clip3"><rect x="291.70" y="205.30" width="176.90" height="131.10"/></clipPath>
<g clip-path="url(#clip3)">
<line x1="344.03" y1="205.30" x2="344.03" y2="336.40" stroke="#f4506e" stroke-width="0.9" stroke-dasharray="1.1,1.4"/>
<polyline points="291.70,241.94 292.30,254.55 292.90,267.30 293.51,280.59 294.11,290.66 294.71,297.61 295.31,303.22 295.91,307.41 296.51,310.12 297.12,312.16 297.72,314.08 298.32,315.69 298.92,317.08 299.52,318.19 300.12,319.08 300.73,319.89 301.33,320.62 301.93,321.31 302.53,321.93 303.13,322.47 303.73,322.92 304.34,323.39 304.94,323.82 305.54,324.06 306.14,324.20 306.74,324.11 307.34,324.06 307.95,324.06 308.55,324.17 309.15,324.34 309.75,324.49 310.35,324.62 310.95,324.74 311.56,324.84 312.16,324.86 312.76,324.85 313.36,324.75 313.96,324.70 314.56,324.70 315.17,324.74 315.77,324.80 316.37,324.80 316.97,324.77 317.57,324.72 318.17,324.67 318.78,324.65 319.38,324.65 319.98,324.70 320.58,324.75 321.18,324.80 321.79,324.67 322.39,324.47 322.99,324.30 323.59,324.15 324.19,324.25 324.79,324.32 325.40,324.29 326.00,324.18 326.60,323.97 327.20,323.79 327.80,323.63 328.40,323.60 329.01,323.60 329.61,323.59 330.21,323.56 330.81,323.39 331.41,323.22 332.01,323.10 332.62,322.93 333.22,322.71 333.82,322.42 334.42,322.06 335.02,321.74 335.62,321.40 336.23,320.88 336.83,320.31 337.43,319.72 338.03,319.14 338.63,318.51 339.23,317.63 339.84,316.61 340.44,315.43 341.04,314.20 341.64,312.92 342.24,311.74 342.84,310.53 343.45,309.28 344.05,308.02 344.65,306.78 345.25,305.63 345.85,304.54 346.45,303.53 347.06,302.59 347.66,301.71 348.26,300.99 348.86,300.31 349.46,299.66 350.06,298.97 350.67,298.11 351.27,297.19 351.87,296.17 352.47,295.15 353.07,294.15 353.68,293.16 354.28,292.15 354.88,291.27 355.48,290.40 356.08,289.61 356.68,288.83 357.29,288.02 357.89,287.16 358.49,286.22 359.09,285.09 359.69,283.83 360.29,282.82 360.90,281.87 361.50,281.30 362.10,280.74 362.70,279.99 363.30,279.21 363.90,278.38 364.51,277.64 365.11,277.01 365.71,276.21 366.31,275.33 366.91,274.32 367.51,273.29 368.12,272.59 368.72,271.90 369.32,271.22 369.92,270.51 370.52,269.77 371.12,269.11 371.73,268.53 372.33,267.89 372.93,267.22 373.53,266.59 374.13,265.95 374.73,265.27 375.34,264.55 375.94,263.75 376.54,262.92 377.14,262.05 377.74,261.15 378.34,260.23 378.95,259.40 379.55,258.63 380.15,257.95 380.75,257.30 381.35,256.76 381.96,256.23 382.56,255.69 383.16,255.20 383.76,254.79 384.36,254.34 384.96,253.87 385.57,253.10 386.17,252.25 386.77,251.67 387.37,251.15 387.97,250.77 388.57,250.34 389.18,249.79 389.78,249.34 390.38,248.98 390.98,248.59 391.58,248.19 392.18,247.67 392.79,247.14 393.39,246.98 393.99,246.84 394.59,246.66 395.19,246.33 395.79,245.69 396.40,245.24 397.00,244.96 397.60,244.98 398.20,245.14 398.80,245.23 399.40,245.32 400.01,245.28 400.61,245.17 401.21,244.76 401.81,244.30 402.41,243.76 403.01,243.45 403.62,243.32 404.22,243.30 404.82,243.30 405.42,242.87 406.02,242.39 406.62,241.88 407.23,241.50 407.83,241.51 408.43,241.46 409.03,241.31 409.63,240.96 410.24,240.47 410.84,240.23 411.44,240.07 412.04,240.14 412.64,240.22 413.24,240.34 413.85,240.44 414.45,240.51 415.05,240.44 415.65,240.22 416.25,239.89 416.85,239.51 417.46,239.15 418.06,238.80 418.66,238.48 419.26,238.17 419.86,237.96 420.46,237.78 421.07,237.70 421.67,237.67 422.27,237.71 422.87,237.91 423.47,238.18 424.07,238.29 424.68,238.36 425.28,238.05 425.88,237.75 426.48,237.52 427.08,237.31 427.68,237.14 428.29,237.00 428.89,236.89 429.49,236.91 430.09,236.98 430.69,236.88 431.29,236.75 431.90,236.40 432.50,236.12 433.10,235.97 433.70,235.88 434.30,235.84 434.90,235.73 435.51,235.58 436.11,235.60 436.71,235.68 437.31,235.77 437.91,235.79 438.51,235.38 439.12,235.00 439.72,234.69 440.32,234.58 440.92,234.69 441.52,234.58 442.13,234.36 442.73,234.04 443.33,233.69 443.93,233.82 444.53,233.94 445.13,234.04 445.74,234.00 446.34,233.72 446.94,233.61 447.54,233.64 448.14,233.78 448.74,233.96 449.35,233.83 449.95,233.64 450.55,233.40 451.15,233.19 451.75,233.14 452.35,233.05 452.96,232.90 453.56,232.75 454.16,232.59 454.76,232.74 455.36,233.00 455.96,233.04 456.57,233.02 457.17,232.57 457.77,232.15 458.37,231.84 458.97,231.72 459.57,231.82 460.18,231.95 460.78,232.09 461.38,231.94 461.98,231.70 462.58,231.38 463.18,231.11 463.79,231.18 464.39,231.33 464.99,231.67 465.59,231.85 466.19,231.88 466.79,231.92 467.40,231.98 468.00,232.11 468.60,232.26" fill="none" stroke="#1ee81e" stroke-width="1.3" stroke-linejoin="round" stroke-linecap="round"/>
<polyline points="291.70,268.91 292.30,292.42 292.90,308.84 293.51,313.91 294.11,316.29 294.71,317.60 295.31,318.07 295.91,318.33 296.51,318.57 297.12,318.77 297.72,319.04 298.32,319.30 298.92,319.57 299.52,319.77 300.12,319.83 300.73,319.87 301.33,319.90 301.93,320.00 302.53,320.16 303.13,320.25 303.73,320.31 304.34,320.22 304.94,320.12 305.54,320.14 306.14,320.24 306.74,320.53 307.34,320.79 307.95,321.01 308.55,321.08 309.15,321.06 309.75,320.98 310.35,320.89 310.95,320.80 311.56,320.71 312.16,320.67 312.76,320.68 313.36,320.77 313.96,320.86 314.56,320.94 315.17,320.99 315.77,321.03 316.37,321.09 316.97,321.15 317.57,321.18 318.17,321.20 318.78,321.11 319.38,321.00 319.98,320.87 320.58,320.87 321.18,320.99 321.79,321.21 322.39,321.47 322.99,321.59 323.59,321.68 324.19,321.73 324.79,321.78 325.40,321.86 326.00,321.91 326.60,321.92 327.20,321.88 327.80,321.81 328.40,321.75 329.01,321.70 329.61,321.78 330.21,321.88 330.81,322.02 331.41,322.15 332.01,322.24 332.62,322.29 333.22,322.29 333.82,322.25 334.42,322.19 335.02,322.14 335.62,322.08 336.23,322.08 336.83,322.08 337.43,322.13 338.03,322.16 338.63,322.15 339.23,322.16 339.84,322.19 340.44,322.30 341.04,322.46 341.64,322.62 342.24,322.77 342.84,322.72 343.45,322.63 344.05,322.40 344.65,322.22 345.25,322.13 345.85,322.11 346.45,322.15 347.06,322.20 347.66,322.25 348.26,322.32 348.86,322.39 349.46,322.44 350.06,322.47 350.67,322.42 351.27,322.35 351.87,322.24 352.47,322.20 353.07,322.20 353.68,322.25 354.28,322.32 354.88,322.32 355.48,322.30 356.08,322.23 356.68,322.19 357.29,322.21 357.89,322.22 358.49,322.20 359.09,322.12 359.69,322.00 360.29,321.97 360.90,321.97 361.50,321.96 362.10,321.93 362.70,321.80 363.30,321.70 363.90,321.67 364.51,321.68 365.11,321.72 365.71,321.74 366.31,321.75 366.91,321.79 367.51,321.83 368.12,321.87 368.72,321.90 369.32,321.82 369.92,321.72 370.52,321.57 371.12,321.48 371.73,321.43 372.33,321.36 372.93,321.28 373.53,321.24 374.13,321.20 374.73,321.18 375.34,321.13 375.94,320.98 376.54,320.83 377.14,320.68 377.74,320.51 378.34,320.34 378.95,320.21 379.55,320.08 380.15,320.04 380.75,320.02 381.35,320.02 381.96,320.01 382.56,319.98 383.16,319.91 383.76,319.81 384.36,319.73 384.96,319.66 385.57,319.63 386.17,319.61 386.77,319.52 387.37,319.43 387.97,319.31 388.57,319.20 389.18,319.08 389.78,318.98 390.38,318.91 390.98,318.88 391.58,318.87 392.18,318.79 392.79,318.70 393.39,318.60 393.99,318.53 394.59,318.54 395.19,318.49 395.79,318.32 396.40,318.17 397.00,318.04 397.60,318.06 398.20,318.15 398.80,318.04 399.40,317.90 400.01,317.71 400.61,317.53 401.21,317.39 401.81,317.26 402.41,317.13 403.01,317.06 403.62,317.05 404.22,316.89 404.82,316.67 405.42,316.42 406.02,316.19 406.62,316.19 407.23,316.19 407.83,316.19 408.43,316.17 409.03,316.12 409.63,316.04 410.24,315.95 410.84,315.85 411.44,315.74 412.04,315.69 412.64,315.63 413.24,315.48 413.85,315.34 414.45,315.18 415.05,315.10 415.65,315.09 416.25,315.02 416.85,314.92 417.46,314.81 418.06,314.70 418.66,314.59 419.26,314.47 419.86,314.25 420.46,314.09 421.07,314.03 421.67,314.01 422.27,314.04 422.87,313.96 423.47,313.84 424.07,313.73 424.68,313.62 425.28,313.51 425.88,313.38 426.48,313.24 427.08,313.10 427.68,312.96 428.29,312.82 428.89,312.67 429.49,312.55 430.09,312.45 430.69,312.31 431.29,312.17 431.90,312.04 432.50,311.92 433.10,311.84 433.70,311.78 434.30,311.75 434.90,311.72 435.51,311.69 436.11,311.58 436.71,311.45 437.31,311.21 437.91,310.97 438.51,310.70 439.12,310.46 439.72,310.27 440.32,310.15 440.92,310.10 441.52,310.10 442.13,310.13 442.73,310.09 443.33,310.03 443.93,309.90 444.53,309.77 445.13,309.60 445.74,309.42 446.34,309.22 446.94,309.10 447.54,309.04 448.14,309.05 448.74,309.10 449.35,308.99 449.95,308.84 450.55,308.59 451.15,308.38 451.75,308.29 452.35,308.20 452.96,308.11 453.56,307.99 454.16,307.84 454.76,307.76 455.36,307.71 455.96,307.66 456.57,307.61 457.17,307.56 457.77,307.50 458.37,307.40 458.97,307.25 459.57,307.04 460.18,306.90 460.78,306.81 461.38,306.73 461.98,306.65 462.58,306.46 463.18,306.26 463.79,306.06 464.39,305.88 464.99,305.76 465.59,305.68 466.19,305.66 466.79,305.62 467.40,305.56 468.00,305.40 468.60,305.21" fill="none" stroke="#ff1a1a" stroke-width="1.3" stroke-linejoin="round" stroke-linecap="round"/>
<polyline points="291.70,231.80 292.30,225.25 292.90,241.48 293.51,264.69 294.11,293.14 294.71,309.06 295.31,317.56 295.91,320.71 296.51,322.93 297.12,325.28 297.72,325.67 298.32,325.73 298.92,326.68 299.52,328.50 300.12,328.89 300.73,327.47 301.33,328.61 301.93,329.42 302.53,329.64 303.13,331.25 303.73,332.11 304.34,330.86 304.94,329.71 305.54,329.67 306.14,329.41 306.74,330.16 307.34,331.30 307.95,331.22 308.55,331.41 309.15,331.08 309.75,330.64 310.35,331.23 310.95,331.03 311.56,329.73 312.16,330.97 312.76,331.79 313.36,330.36 313.96,330.10 314.56,330.71 315.17,330.54 315.77,331.33 316.37,331.78 316.97,331.02 317.57,330.08 318.17,329.92 318.78,330.07 319.38,329.94 319.98,330.27 320.58,331.67 321.18,332.09 321.79,331.29 322.39,331.53 322.99,331.25 323.59,331.27 324.19,330.75 324.79,331.05 325.40,331.12 326.00,329.30 326.60,329.77 327.20,330.54 327.80,329.66 328.40,330.31 329.01,331.27 329.61,330.94 330.21,330.60 330.81,330.55 331.41,330.96 332.01,331.48 332.62,331.98 333.22,332.15 333.82,331.94 334.42,332.04 335.02,331.30 335.62,331.72 336.23,332.46 336.83,331.97 337.43,332.09 338.03,332.11 338.63,332.24 339.23,332.65 339.84,332.75 340.44,332.10 341.04,333.19 341.64,333.35 342.24,332.90 342.84,333.62 343.45,332.40 344.05,331.41 344.65,331.00 345.25,331.48 345.85,332.00 346.45,331.56 347.06,331.10 347.66,331.32 348.26,331.51 348.86,330.70 349.46,330.39 350.06,331.51 350.67,331.61 351.27,330.95 351.87,331.09 352.47,331.15 353.07,330.50 353.68,329.20 354.28,328.63 354.88,328.09 355.48,327.45 356.08,326.47 356.68,326.86 357.29,328.66 357.89,330.37 358.49,330.04 359.09,327.89 359.69,327.34 360.29,327.66 360.90,327.26 361.50,328.02 362.10,329.26 362.70,328.61 363.30,327.48 363.90,327.37 364.51,327.79 365.11,326.92 365.71,326.18 366.31,326.02 366.91,325.83 367.51,326.77 368.12,328.36 368.72,327.70 369.32,325.98 369.92,326.18 370.52,326.87 371.12,326.81 371.73,326.78 372.33,326.86 372.93,325.70 373.53,325.62 374.13,327.28 374.73,327.81 375.34,326.73 375.94,325.77 376.54,326.13 377.14,326.53 377.74,326.95 378.34,326.35 378.95,325.05 379.55,324.62 380.15,325.98 380.75,326.21 381.35,326.10 381.96,327.28 382.56,327.46 383.16,326.35 383.76,325.90 384.36,325.48 384.96,325.00 385.57,325.44 386.17,326.10 386.77,325.95 387.37,325.35 387.97,325.43 388.57,325.81 389.18,326.73 389.78,327.45 390.38,326.40 390.98,325.10 391.58,324.67 392.18,325.03 392.79,324.68 393.39,324.62 393.99,325.74 394.59,326.22 395.19,326.25 395.79,326.12 396.40,325.29 397.00,325.08 397.60,324.67 398.20,325.44 398.80,326.16 399.40,326.22 400.01,325.79 400.61,324.94 401.21,324.22 401.81,324.61 402.41,325.62 403.01,326.56 403.62,326.45 404.22,325.70 404.82,324.89 405.42,324.19 406.02,323.95 406.62,324.40 407.23,324.82 407.83,324.68 408.43,324.54 409.03,325.13 409.63,324.17 410.24,323.38 410.84,324.89 411.44,326.03 412.04,326.05 412.64,324.72 413.24,324.39 413.85,323.47 414.45,322.72 415.05,324.06 415.65,324.25 416.25,323.99 416.85,324.28 417.46,324.20 418.06,323.53 418.66,323.65 419.26,323.72 419.86,323.42 420.46,323.78 421.07,323.68 421.67,323.13 422.27,324.01 422.87,325.13 423.47,325.53 424.07,325.48 424.68,324.83 425.28,325.37 425.88,325.50 426.48,324.29 427.08,324.47 427.68,324.62 428.29,324.44 428.89,325.55 429.49,325.81 430.09,324.58 430.69,323.28 431.29,323.54 431.90,324.94 432.50,325.62 433.10,325.39 433.70,325.55 434.30,325.36 434.90,324.26 435.51,324.03 436.11,324.42 436.71,325.52 437.31,325.58 437.91,323.98 438.51,323.31 439.12,323.83 439.72,323.67 440.32,323.37 440.92,323.37 441.52,324.03 442.13,324.15 442.73,325.08 443.33,325.68 443.93,324.95 444.53,324.26 445.13,324.42 445.74,323.86 446.34,323.79 446.94,324.34 447.54,323.18 448.14,322.59 448.74,324.39 449.35,325.24 449.95,324.21 450.55,323.32 451.15,323.47 451.75,324.23 452.35,323.99 452.96,323.40 453.56,323.15 454.16,323.55 454.76,324.85 455.36,325.49 455.96,325.15 456.57,324.36 457.17,322.64 457.77,322.51 458.37,323.81 458.97,324.23 459.57,323.49 460.18,322.41 460.78,322.53 461.38,323.50 461.98,324.75 462.58,324.73 463.18,323.73 463.79,322.90 464.39,323.14 464.99,322.76 465.59,321.85 466.19,322.98 466.79,323.27 467.40,322.95 468.00,322.54 468.60,321.74" fill="none" stroke="#1414f5" stroke-width="1.3" stroke-linejoin="round" stroke-linecap="round"/>
<polyline points="292.58,202.30 293.19,202.30 293.79,202.30 294.39,202.30 294.99,208.42 295.59,218.29 296.19,228.09 296.79,237.04 297.39,245.85 297.99,252.24 298.59,255.50 299.19,257.84 299.79,259.73 300.39,261.66 300.99,264.05 301.60,266.62 302.20,269.19 302.80,271.62 303.40,273.79 304.00,275.89 304.60,277.94 305.20,279.74 305.80,281.16 306.40,282.15 307.00,283.00 307.60,283.79 308.20,284.49 308.80,285.13 309.41,285.72 310.01,286.29 310.61,286.85 311.21,287.38 311.81,287.84 312.41,288.25 313.01,288.57 313.61,288.88 314.21,289.17 314.81,289.51 315.41,289.89 316.01,290.24 316.61,290.57 317.21,290.78 317.82,290.98 318.42,291.29 319.02,291.59 319.62,291.91 320.22,292.14 320.82,292.29 321.42,292.54 322.02,292.82 322.62,293.14 323.22,293.48 323.82,293.74 324.42,294.04 325.02,294.46 325.62,294.87 326.23,295.25 326.83,295.61 327.43,295.91 328.03,296.34 328.63,296.79 329.23,297.15 329.83,297.48 330.43,297.77 331.03,298.10 331.63,298.52 332.23,298.91 332.83,299.27 333.43,299.56 334.04,299.85 334.64,300.34 335.24,300.90 335.84,301.66 336.44,302.34 337.04,302.80 337.64,303.06 338.24,303.19 338.84,303.39 339.44,303.63 340.04,303.84 340.64,304.04 341.24,304.10 341.84,304.14 342.45,304.19 343.05,304.24 343.65,304.31 344.25,304.37 344.85,304.43 345.45,304.53 346.05,304.67 346.65,304.85 347.25,305.04 347.85,305.26 348.45,305.48 349.05,305.69 349.65,305.86 350.26,305.95 350.86,306.03 351.46,306.10 352.06,306.22 352.66,306.35 353.26,306.49 353.86,306.62 354.46,306.68 355.06,306.70 355.66,306.61 356.26,306.59 356.86,306.63 357.46,306.80 358.06,307.04 358.67,307.20 359.27,307.34 359.87,307.37 360.47,307.40 361.07,307.40 361.67,307.44 362.27,307.54 362.87,307.67 363.47,307.83 364.07,307.96 364.67,308.08 365.27,308.21 365.87,308.35 366.47,308.49 367.08,308.64 367.68,308.76 368.28,308.89 368.88,309.04 369.48,309.16 370.08,309.25 370.68,309.31 371.28,309.36 371.88,309.45 372.48,309.54 373.08,309.65 373.68,309.77 374.28,309.90 374.89,310.05 375.49,310.19 376.09,310.29 376.69,310.37 377.29,310.44 377.89,310.52 378.49,310.61 379.09,310.68 379.69,310.72 380.29,310.80 380.89,310.94 381.49,311.11 382.09,311.31 382.69,311.42 383.30,311.51 383.90,311.53 384.50,311.56 385.10,311.63 385.70,311.74 386.30,311.94 386.90,312.12 387.50,312.29 388.10,312.33 388.70,312.29 389.30,312.25 389.90,312.21 390.50,312.35 391.11,312.48 391.71,312.60 392.31,312.73 392.91,312.87 393.51,313.01 394.11,313.17 394.71,313.19 395.31,313.16 395.91,313.14 396.51,313.12 397.11,313.19 397.71,313.26 398.31,313.34 398.91,313.45 399.52,313.59 400.12,313.72 400.72,313.84 401.32,313.93 401.92,314.00 402.52,313.98 403.12,313.96 403.72,313.95 404.32,314.01 404.92,314.17 405.52,314.36 406.12,314.57 406.72,314.75 407.32,314.93 407.93,314.99 408.53,315.04 409.13,315.06 409.73,315.14 410.33,315.36 410.93,315.55 411.53,315.72 412.13,315.80 412.73,315.84 413.33,315.85 413.93,315.85 414.53,315.96 415.13,316.10 415.74,316.36 416.34,316.56 416.94,316.61 417.54,316.66 418.14,316.72 418.74,316.91 419.34,317.15 419.94,317.28 420.54,317.38 421.14,317.35 421.74,317.34 422.34,317.43 422.94,317.62 423.54,317.95 424.15,318.18 424.75,318.37 425.35,318.34 425.95,318.26 426.55,318.31 427.15,318.41 427.75,318.76 428.35,319.06 428.95,319.28 429.55,319.38 430.15,319.36 430.75,319.40 431.35,319.47 431.96,319.61 432.56,319.77 433.16,319.97 433.76,320.19 434.36,320.42 434.96,320.59 435.56,320.67 436.16,320.70 436.76,320.69 437.36,320.86 437.96,321.08 438.56,321.47 439.16,321.83 439.76,321.90 440.37,321.94 440.97,321.89 441.57,321.98 442.17,322.23 442.77,322.47 443.37,322.72 443.97,322.81 444.57,322.86 445.17,322.94 445.77,323.03 446.37,323.17 446.97,323.31 447.57,323.46 448.17,323.59 448.78,323.71 449.38,323.81 449.98,323.90 450.58,324.00 451.18,324.11 451.78,324.26 452.38,324.41 452.98,324.52 453.58,324.59 454.18,324.60 454.78,324.62 455.38,324.65 455.98,324.78 456.59,324.93 457.19,325.10 457.79,325.25 458.39,325.34 458.99,325.42 459.59,325.49 460.19,325.57 460.79,325.65 461.39,325.73 461.99,325.81 462.59,325.86 463.19,325.92 463.79,326.08 464.39,326.27 465.00,326.53 465.60,326.74 466.20,326.89 466.80,326.97 467.40,327.00 468.00,327.10 468.60,327.21" fill="none" stroke="#222222" stroke-width="1.1" stroke-linejoin="round" stroke-linecap="round"/>
</g>
<rect x="291.70" y="205.30" width="176.90" height="131.10" fill="none" stroke="#2c2c2c" stroke-width="1.35"/>
<line x1="306.44" y1="336.40" x2="306.44" y2="334.80" stroke="#2c2c2c" stroke-width="0.8"/>
<line x1="321.18" y1="336.40" x2="321.18" y2="334.20" stroke="#2c2c2c" stroke-width="0.8"/>
<line x1="335.93" y1="336.40" x2="335.93" y2="334.80" stroke="#2c2c2c" stroke-width="0.8"/>
<line x1="350.67" y1="336.40" x2="350.67" y2="334.20" stroke="#2c2c2c" stroke-width="0.8"/>
<line x1="365.41" y1="336.40" x2="365.41" y2="334.80" stroke="#2c2c2c" stroke-width="0.8"/>
<line x1="380.15" y1="336.40" x2="380.15" y2="334.20" stroke="#2c2c2c" stroke-width="0.8"/>
<line x1="394.89" y1="336.40" x2="394.89" y2="334.80" stroke="#2c2c2c" stroke-width="0.8"/>
<line x1="409.63" y1="336.40" x2="409.63" y2="334.20" stroke="#2c2c2c" stroke-width="0.8"/>
<line x1="424.38" y1="336.40" x2="424.38" y2="334.80" stroke="#2c2c2c" stroke-width="0.8"/>
<line x1="439.12" y1="336.40" x2="439.12" y2="334.20" stroke="#2c2c2c" stroke-width="0.8"/>
<line x1="453.86" y1="336.40" x2="453.86" y2="334.80" stroke="#2c2c2c" stroke-width="0.8"/>
<line x1="291.70" y1="323.29" x2="293.30" y2="323.29" stroke="#2c2c2c" stroke-width="0.8"/>
<line x1="291.70" y1="310.18" x2="293.90" y2="310.18" stroke="#2c2c2c" stroke-width="0.8"/>
<line x1="291.70" y1="297.07" x2="293.30" y2="297.07" stroke="#2c2c2c" stroke-width="0.8"/>
<line x1="291.70" y1="283.96" x2="293.90" y2="283.96" stroke="#2c2c2c" stroke-width="0.8"/>
<line x1="291.70" y1="270.85" x2="293.30" y2="270.85" stroke="#2c2c2c" stroke-width="0.8"/>
<line x1="291.70" y1="257.74" x2="293.90" y2="257.74" stroke="#2c2c2c" stroke-width="0.8"/>
<line x1="291.70" y1="244.63" x2="293.30" y2="244.63" stroke="#2c2c2c" stroke-width="0.8"/>
<line x1="291.70" y1="231.52" x2="293.90" y2="231.52" stroke="#2c2c2c" stroke-width="0.8"/>
<line x1="291.70" y1="218.41" x2="293.30" y2="218.41" stroke="#2c2c2c" stroke-width="0.8"/>
<text x="292.00" y="346.10" class="tk" text-anchor="middle">0</text>
<text x="321.48" y="346.10" class="tk" text-anchor="middle">20</text>
<text x="350.97" y="346.10" class="tk" text-anchor="middle">40</text>
<text x="380.45" y="346.10" class="tk" text-anchor="middle">60</text>
<text x="409.93" y="346.10" class="tk" text-anchor="middle">80</text>
<text x="439.42" y="346.10" class="tk" text-anchor="middle">100</text>
<text x="468.90" y="346.10" class="tk" text-anchor="middle">120</text>
<text x="288.90" y="338.50" class="tk" text-anchor="end">0</text>
<text x="288.90" y="312.28" class="tk" text-anchor="end">2</text>
<text x="288.90" y="286.06" class="tk" text-anchor="end">4</text>
<text x="288.90" y="259.84" class="tk" text-anchor="end">6</text>
<text x="288.90" y="233.62" class="tk" text-anchor="end">8</text>
<text x="288.90" y="207.40" class="tk" text-anchor="end">10</text>
<text x="263.20" y="195.70" class="pl" text-anchor="start">(d)</text>
<text x="274.30" y="275.80" class="yl" text-anchor="middle" transform="rotate(-90 274.30 275.80)">Mass concentration (%)</text>
<text x="377.60" y="358.40" class="xl" text-anchor="middle">Depth (&#181;m)</text>
<text x="300.90" y="214.40" class="lg" fill="#2ed82e" stroke="#2ed82e">Mn - (5&#215;)</text>
<text x="300.90" y="222.60" class="lg" fill="#ff2e2e" stroke="#ff2e2e">Cu&#160; - (5&#215;)</text>
<text x="300.90" y="230.80" class="lg" fill="#2e62ff" stroke="#2e62ff">Fe&#160; -&#160; (5&#215;)</text>
<text x="406.90" y="215.90" class="ann" text-anchor="start">After Brazing</text>
<text x="441.40" y="228.90" class="el" text-anchor="start">Mn</text>
<text x="400.50" y="265.20" class="ann" text-anchor="start">Core layer</text>
<text x="300.90" y="252.40" class="ann" text-anchor="start">Re-solidified</text>
<text x="304.00" y="265.80" class="ann" text-anchor="start">clad layer</text>
<text x="314.80" y="283.80" class="si" text-anchor="start">Si</text>
<text x="443.60" y="304.60" class="el" text-anchor="start">Cu</text>
<text x="445.40" y="320.70" class="el" text-anchor="start">Fe</text>
<clipPath id="clip4"><rect x="41.40" y="387.00" width="181.10" height="133.70"/></clipPath>
<g clip-path="url(#clip4)">
<line x1="126.94" y1="387.00" x2="126.94" y2="520.70" stroke="#f4506e" stroke-width="0.9" stroke-dasharray="1.1,1.4"/>
<polyline points="41.40,516.44 42.00,516.59 42.60,516.72 43.20,516.71 43.81,516.64 44.41,516.42 45.01,516.24 45.61,516.09 46.21,516.10 46.81,516.18 47.42,516.27 48.02,516.35 48.62,516.30 49.22,516.26 49.82,516.26 50.42,516.25 51.03,516.24 51.63,516.24 52.23,516.25 52.83,516.33 53.43,516.44 54.03,516.55 54.64,516.65 55.24,516.73 55.84,516.79 56.44,516.79 57.04,516.76 57.64,516.68 58.25,516.55 58.85,516.39 59.45,516.27 60.05,516.16 60.65,516.12 61.25,516.10 61.86,516.17 62.46,516.23 63.06,516.31 63.66,516.34 64.26,516.34 64.86,516.32 65.47,516.30 66.07,516.25 66.67,516.21 67.27,516.26 67.87,516.32 68.47,516.41 69.08,516.46 69.68,516.43 70.28,516.40 70.88,516.36 71.48,516.34 72.08,516.32 72.69,516.19 73.29,516.07 73.89,516.03 74.49,516.05 75.09,516.22 75.69,516.40 76.30,516.59 76.90,516.72 77.50,516.80 78.10,516.74 78.70,516.65 79.30,516.66 79.91,516.68 80.51,516.75 81.11,516.74 81.71,516.57 82.31,516.45 82.91,516.37 83.52,516.41 84.12,516.51 84.72,516.57 85.32,516.63 85.92,516.59 86.52,516.55 87.13,516.52 87.73,516.53 88.33,516.61 88.93,516.58 89.53,516.47 90.13,516.30 90.74,516.12 91.34,516.15 91.94,516.21 92.54,516.29 93.14,516.37 93.74,516.46 94.35,516.54 94.95,516.61 95.55,516.59 96.15,516.51 96.75,516.47 97.35,516.44 97.96,516.48 98.56,516.51 99.16,516.40 99.76,516.28 100.36,516.13 100.96,516.11 101.57,516.21 102.17,516.40 102.77,516.63 103.37,516.75 103.97,516.84 104.57,516.74 105.18,516.62 105.78,516.41 106.38,516.25 106.98,516.16 107.58,516.16 108.18,516.25 108.79,516.39 109.39,516.55 109.99,516.60 110.59,516.63 111.19,516.52 111.79,516.43 112.40,516.41 113.00,516.42 113.60,516.46 114.20,516.42 114.80,516.35 115.40,516.27 116.01,516.19 116.61,516.25 117.21,516.34 117.81,516.53 118.41,516.69 119.01,516.76 119.62,516.72 120.22,516.57 120.82,516.44 121.42,516.33 122.02,516.33 122.62,516.35 123.23,516.40 123.83,516.43 124.43,516.39 125.03,516.34 125.63,516.25 126.23,516.20 126.84,516.20 127.44,516.24 128.04,516.31 128.64,516.38 129.24,516.45 129.84,516.42 130.45,516.38 131.05,516.33 131.65,516.33 132.25,516.39 132.85,515.62 133.45,513.85 134.06,511.97 134.66,509.86 135.26,507.55 135.86,505.10 136.46,502.52 137.06,499.73 137.67,496.91 138.27,494.22 138.87,491.62 139.47,489.08 140.07,486.62 140.67,484.14 141.28,481.60 141.88,478.88 142.48,476.50 143.08,474.43 143.68,472.68 144.28,471.24 144.89,469.84 145.49,468.39 146.09,466.85 146.69,465.30 147.29,463.88 147.89,462.55 148.50,461.26 149.10,459.95 149.70,458.56 150.30,457.26 150.90,456.11 151.50,455.24 152.11,454.58 152.71,454.05 153.31,453.55 153.91,453.11 154.51,452.58 155.11,451.99 155.72,451.34 156.32,450.57 156.92,449.73 157.52,448.79 158.12,447.95 158.72,447.18 159.33,446.62 159.93,446.11 160.53,445.01 161.13,443.91 161.73,442.76 162.33,441.95 162.94,441.82 163.54,441.72 164.14,441.63 164.74,441.12 165.34,440.41 165.94,439.78 166.55,439.17 167.15,438.92 167.75,438.67 168.35,438.39 168.95,438.12 169.55,437.89 170.16,437.47 170.76,436.90 171.36,436.22 171.96,435.49 172.56,435.48 173.16,435.55 173.77,435.73 174.37,435.78 174.97,435.44 175.57,435.03 176.17,434.53 176.77,434.08 177.38,433.65 177.98,433.34 178.58,433.06 179.18,433.09 179.78,433.12 180.38,433.08 180.99,432.91 181.59,432.48 182.19,432.13 182.79,431.86 183.39,431.80 183.99,431.85 184.60,431.87 185.20,431.91 185.80,431.74 186.40,431.55 187.00,431.29 187.60,431.10 188.21,431.02 188.81,430.99 189.41,430.98 190.01,430.77 190.61,430.49 191.21,430.36 191.82,430.26 192.42,430.43 193.02,430.56 193.62,430.57 194.22,430.46 194.82,430.20 195.43,430.08 196.03,430.06 196.63,430.30 197.23,430.62 197.83,430.65 198.43,430.65 199.04,430.53 199.64,430.34 200.24,430.03 200.84,429.72 201.44,429.41 202.04,429.37 202.65,429.45 203.25,429.54 203.85,429.63 204.45,429.42 205.05,429.16 205.65,428.70 206.26,428.37 206.86,428.23 207.46,428.36 208.06,428.71 208.66,429.18 209.26,429.70 209.87,429.72 210.47,429.65 211.07,429.23 211.67,428.92 212.27,428.96 212.87,429.01 213.48,429.09 214.08,429.15 214.68,429.19 215.28,429.24 215.88,429.29 216.48,429.08 217.09,428.87 217.69,428.74 218.29,428.67 218.89,428.78 219.49,428.87 220.09,428.94 220.70,428.95 221.30,428.94 221.90,428.99 222.50,429.05" fill="none" stroke="#1ee81e" stroke-width="1.3" stroke-linejoin="round" stroke-linecap="round"/>
<polyline points="41.40,509.11 42.00,509.32 42.60,509.54 43.20,509.82 43.81,510.15 44.41,510.52 45.01,510.91 45.61,511.27 46.21,511.49 46.81,511.61 47.42,511.54 48.02,511.43 48.62,511.37 49.22,511.32 49.82,511.35 50.42,511.39 51.03,511.45 51.63,511.52 52.23,511.59 52.83,511.55 53.43,511.48 54.03,511.32 54.64,511.18 55.24,511.15 55.84,511.17 56.44,511.32 57.04,511.40 57.64,511.41 58.25,511.36 58.85,511.28 59.45,511.24 60.05,511.21 60.65,511.15 61.25,511.11 61.86,511.19 62.46,511.27 63.06,511.36 63.66,511.32 64.26,511.18 64.86,511.13 65.47,511.13 66.07,511.22 66.67,511.31 67.27,511.27 67.87,511.23 68.47,511.19 69.08,511.16 69.68,511.17 70.28,511.24 70.88,511.37 71.48,511.47 72.08,511.55 72.69,511.44 73.29,511.30 73.89,511.14 74.49,510.99 75.09,510.89 75.69,510.85 76.30,510.87 76.90,510.95 77.50,511.08 78.10,511.20 78.70,511.32 79.30,511.36 79.91,511.39 80.51,511.39 81.11,511.39 81.71,511.39 82.31,511.41 82.91,511.46 83.52,511.50 84.12,511.53 84.72,511.42 85.32,511.28 85.92,511.06 86.52,510.85 87.13,510.70 87.73,510.64 88.33,510.70 88.93,510.79 89.53,510.89 90.13,510.93 90.74,510.94 91.34,510.98 91.94,511.03 92.54,511.07 93.14,511.08 93.74,511.00 94.35,510.86 94.95,510.65 95.55,510.55 96.15,510.53 96.75,510.60 97.35,510.70 97.96,510.62 98.56,510.52 99.16,510.37 99.76,510.25 100.36,510.20 100.96,510.19 101.57,510.21 102.17,510.24 102.77,510.27 103.37,510.22 103.97,510.16 104.57,509.99 105.18,509.84 105.78,509.74 106.38,509.70 106.98,509.75 107.58,509.74 108.18,509.68 108.79,509.55 109.39,509.40 109.99,509.33 110.59,509.25 111.19,509.15 111.79,509.04 112.40,508.94 113.00,508.83 113.60,508.71 114.20,508.59 114.80,508.47 115.40,508.43 116.01,508.41 116.61,508.44 117.21,508.47 117.81,508.53 118.41,508.54 119.01,508.47 119.62,508.33 120.22,508.11 120.82,507.91 121.42,507.72 122.02,507.57 122.62,507.44 123.23,507.37 123.83,507.33 124.43,507.37 125.03,507.38 125.63,507.35 126.23,507.27 126.84,507.15 127.44,507.08 128.04,507.02 128.64,506.99 129.24,506.96 129.84,506.84 130.45,506.72 131.05,506.55 131.65,506.41 132.25,506.30 132.85,506.20 133.45,506.10 134.06,505.96 134.66,505.80 135.26,505.62 135.86,505.43 136.46,505.27 137.06,505.11 137.67,504.98 138.27,504.86 138.87,504.76 139.47,504.58 140.07,504.34 140.67,504.06 141.28,503.77 141.88,503.62 142.48,503.47 143.08,503.29 143.68,503.12 144.28,502.99 144.89,502.84 145.49,502.68 146.09,502.37 146.69,502.01 147.29,501.72 147.89,501.44 148.50,501.26 149.10,501.06 149.70,500.81 150.30,500.58 150.90,500.38 151.50,500.18 152.11,499.96 152.71,499.68 153.31,499.38 153.91,499.02 154.51,498.65 155.11,498.32 155.72,498.03 156.32,497.84 156.92,497.59 157.52,497.26 158.12,496.95 158.72,496.66 159.33,496.54 159.93,496.45 160.53,496.16 161.13,495.84 161.73,495.39 162.33,494.97 162.94,494.63 163.54,494.28 164.14,493.93 164.74,493.60 165.34,493.28 165.94,493.10 166.55,492.94 167.15,492.85 167.75,492.72 168.35,492.49 168.95,492.20 169.55,491.80 170.16,491.43 170.76,491.08 171.36,490.74 171.96,490.40 172.56,490.13 173.16,489.85 173.77,489.56 174.37,489.22 174.97,488.75 175.57,488.32 176.17,487.94 176.77,487.68 177.38,487.49 177.98,487.32 178.58,487.15 179.18,486.88 179.78,486.60 180.38,486.28 180.99,485.99 181.59,485.73 182.19,485.47 182.79,485.20 183.39,484.89 183.99,484.55 184.60,484.25 185.20,483.96 185.80,483.75 186.40,483.54 187.00,483.30 187.60,483.05 188.21,482.76 188.81,482.59 189.41,482.50 190.01,482.47 190.61,482.46 191.21,482.21 191.82,481.93 192.42,481.57 193.02,481.25 193.62,481.01 194.22,480.83 194.82,480.71 195.43,480.60 196.03,480.50 196.63,480.33 197.23,480.14 197.83,479.94 198.43,479.75 199.04,479.64 199.64,479.54 200.24,479.46 200.84,479.33 201.44,479.15 202.04,478.97 202.65,478.78 203.25,478.70 203.85,478.65 204.45,478.56 205.05,478.45 205.65,478.23 206.26,478.03 206.86,477.88 207.46,477.72 208.06,477.56 208.66,477.38 209.26,477.18 209.87,477.00 210.47,476.84 211.07,476.78 211.67,476.74 212.27,476.76 212.87,476.77 213.48,476.77 214.08,476.69 214.68,476.58 215.28,476.38 215.88,476.17 216.48,476.04 217.09,475.93 217.69,475.91 218.29,475.93 218.89,476.04 219.49,476.11 220.09,476.12 220.70,475.99 221.30,475.79 221.90,475.71 222.50,475.65" fill="none" stroke="#ff1a1a" stroke-width="1.3" stroke-linejoin="round" stroke-linecap="round"/>
<polyline points="41.40,507.89 42.00,507.75 42.60,507.85 43.20,508.68 43.81,508.57 44.41,508.76 45.01,508.35 45.61,507.63 46.21,508.92 46.81,510.24 47.42,509.43 48.02,509.00 48.62,509.96 49.22,510.61 49.82,510.42 50.42,509.30 51.03,508.53 51.63,509.12 52.23,509.42 52.83,509.24 53.43,509.65 54.03,508.79 54.64,508.30 55.24,508.93 55.84,509.57 56.44,510.39 57.04,510.45 57.64,508.94 58.25,507.70 58.85,508.00 59.45,509.02 60.05,509.88 60.65,510.00 61.25,509.73 61.86,509.81 62.46,509.98 63.06,511.12 63.66,511.63 64.26,511.70 64.86,510.89 65.47,509.63 66.07,509.52 66.67,508.94 67.27,508.85 67.87,509.39 68.47,509.15 69.08,509.45 69.68,509.98 70.28,510.89 70.88,510.88 71.48,509.99 72.08,509.91 72.69,509.94 73.29,509.04 73.89,508.56 74.49,508.81 75.09,509.56 75.69,510.18 76.30,510.04 76.90,510.24 77.50,509.68 78.10,509.64 78.70,510.44 79.30,509.50 79.91,508.78 80.51,509.19 81.11,509.83 81.71,510.62 82.31,510.71 82.91,509.71 83.52,509.50 84.12,509.74 84.72,510.19 85.32,510.27 85.92,509.43 86.52,509.76 87.13,510.70 87.73,510.74 88.33,509.77 88.93,509.03 89.53,509.88 90.13,510.76 90.74,511.15 91.34,510.69 91.94,509.94 92.54,509.95 93.14,510.40 93.74,510.28 94.35,509.94 94.95,511.07 95.55,511.09 96.15,510.85 96.75,510.51 97.35,510.01 97.96,510.11 98.56,509.96 99.16,509.25 99.76,509.06 100.36,510.25 100.96,510.72 101.57,510.28 102.17,509.91 102.77,510.47 103.37,510.62 103.97,511.30 104.57,511.23 105.18,509.75 105.78,509.55 106.38,510.31 106.98,510.40 107.58,511.02 108.18,510.48 108.79,509.28 109.39,510.17 109.99,510.45 110.59,510.79 111.19,510.71 111.79,510.18 112.40,510.47 113.00,510.87 113.60,510.95 114.20,510.55 114.80,510.09 115.40,510.90 116.01,512.28 116.61,511.74 117.21,511.06 117.81,512.54 118.41,513.05 119.01,512.10 119.62,512.07 120.22,512.22 120.82,511.30 121.42,511.15 122.02,511.73 122.62,511.62 123.23,510.51 123.83,510.72 124.43,511.97 125.03,512.17 125.63,511.44 126.23,511.10 126.84,510.55 127.44,510.36 128.04,510.16 128.64,510.28 129.24,510.79 129.84,509.80 130.45,509.66 131.05,510.13 131.65,509.32 132.25,509.58 132.85,510.14 133.45,509.34 134.06,507.93 134.66,507.46 135.26,507.63 135.86,507.90 136.46,508.07 137.06,507.77 137.67,507.07 138.27,506.14 138.87,506.21 139.47,506.08 140.07,506.10 140.67,506.46 141.28,506.20 141.88,505.73 142.48,504.82 143.08,504.31 143.68,503.95 144.28,503.91 144.89,504.09 145.49,503.84 146.09,503.46 146.69,503.08 147.29,502.50 147.89,502.84 148.50,503.16 149.10,502.12 149.70,500.98 150.30,500.35 150.90,499.76 151.50,499.78 152.11,500.41 152.71,500.95 153.31,500.66 153.91,499.82 154.51,499.26 155.11,499.16 155.72,498.84 156.32,498.37 156.92,498.16 157.52,498.11 158.12,498.51 158.72,498.27 159.33,497.40 159.93,497.30 160.53,496.91 161.13,496.02 161.73,496.69 162.33,496.82 162.94,496.82 163.54,496.16 164.14,494.85 164.74,494.92 165.34,495.24 165.94,495.30 166.55,495.19 167.15,495.56 167.75,495.65 168.35,495.05 168.95,494.74 169.55,495.27 170.16,495.68 170.76,494.03 171.36,493.43 171.96,494.62 172.56,495.35 173.16,495.19 173.77,494.98 174.37,494.66 174.97,494.10 175.57,494.18 176.17,495.24 176.77,495.17 177.38,495.43 177.98,495.33 178.58,494.47 179.18,494.37 179.78,494.27 180.38,493.15 180.99,493.18 181.59,493.81 182.19,494.46 182.79,494.45 183.39,493.80 183.99,493.07 184.60,492.36 185.20,492.97 185.80,493.32 186.40,494.21 187.00,495.01 187.60,494.65 188.21,494.15 188.81,493.69 189.41,492.97 190.01,492.52 190.61,493.30 191.21,493.72 191.82,493.59 192.42,494.05 193.02,493.90 193.62,493.42 194.22,493.09 194.82,492.95 195.43,493.80 196.03,494.31 196.63,494.20 197.23,494.07 197.83,493.79 198.43,493.34 199.04,493.38 199.64,494.19 200.24,493.98 200.84,493.33 201.44,493.19 202.04,493.20 202.65,492.96 203.25,492.82 203.85,493.30 204.45,494.03 205.05,493.95 205.65,493.94 206.26,494.01 206.86,493.54 207.46,493.47 208.06,494.49 208.66,494.45 209.26,493.85 209.87,493.72 210.47,493.91 211.07,493.84 211.67,493.43 212.27,493.63 212.87,494.25 213.48,494.58 214.08,493.91 214.68,493.63 215.28,493.91 215.88,494.90 216.48,495.76 217.09,495.16 217.69,494.39 218.29,494.05 218.89,493.87 219.49,493.73 220.09,494.46 220.70,494.79 221.30,494.04 221.90,494.49 222.50,494.65" fill="none" stroke="#1414f5" stroke-width="1.3" stroke-linejoin="round" stroke-linecap="round"/>
<polyline points="41.40,506.96 42.00,492.88 42.60,470.86 43.20,445.55 43.81,422.32 44.41,406.14 45.01,408.26 45.61,413.21 46.21,416.18 46.81,418.40 47.42,420.24 48.02,421.30 48.62,421.42 49.22,421.47 49.82,421.46 50.42,421.43 51.03,421.38 51.63,421.39 52.23,421.43 52.83,421.64 53.43,421.91 54.03,422.02 54.64,422.05 55.24,421.73 55.84,421.41 56.44,421.11 57.04,420.95 57.64,420.98 58.25,420.97 58.85,420.95 59.45,420.94 60.05,420.94 60.65,421.14 61.25,421.33 61.86,421.44 62.46,421.53 63.06,421.61 63.66,421.69 64.26,421.77 64.86,421.77 65.47,421.76 66.07,421.87 66.67,422.03 67.27,422.43 67.87,422.83 68.47,423.22 69.08,423.52 69.68,423.69 70.28,423.77 70.88,423.77 71.48,423.80 72.08,423.82 72.69,423.92 73.29,424.01 73.89,424.14 74.49,424.20 75.09,424.13 75.69,424.03 76.30,423.90 76.90,423.88 77.50,423.92 78.10,423.94 78.70,423.95 79.30,424.00 79.91,424.08 80.51,424.30 81.11,424.46 81.71,424.50 82.31,424.40 82.91,424.16 83.52,423.97 84.12,423.82 84.72,423.89 85.32,424.00 85.92,424.28 86.52,424.53 87.13,424.66 87.73,424.70 88.33,424.59 88.93,424.36 89.53,424.03 90.13,423.68 90.74,423.32 91.34,423.25 91.94,423.22 92.54,423.32 93.14,423.39 93.74,423.36 94.35,423.34 94.95,423.30 95.55,423.31 96.15,423.34 96.75,423.32 97.35,423.28 97.96,423.38 98.56,423.50 99.16,423.68 99.76,423.71 100.36,423.43 100.96,423.08 101.57,422.69 102.17,422.43 102.77,422.16 103.37,421.81 103.97,421.41 104.57,420.93 105.18,420.46 105.78,419.96 106.38,419.58 106.98,419.32 107.58,419.37 108.18,419.61 108.79,420.03 109.39,420.52 109.99,420.82 110.59,421.04 111.19,420.94 111.79,420.79 112.40,420.66 113.00,420.42 113.60,420.08 114.20,419.55 114.80,418.90 115.40,418.57 116.01,418.36 116.61,418.37 117.21,418.39 117.81,418.14 118.41,417.93 119.01,417.81 119.62,417.76 120.22,417.79 120.82,417.78 121.42,417.74 122.02,417.82 122.62,417.95 123.23,418.01 123.83,418.06 124.43,418.03 125.03,417.96 125.63,417.81 126.23,417.69 126.84,417.58 127.44,417.66 128.04,417.82 128.64,418.03 129.24,418.41 129.84,418.77 130.45,419.25 131.05,419.82 131.65,420.45 132.25,421.24 132.85,422.40 133.45,423.82 134.06,425.49 134.66,427.22 135.26,428.86 135.86,430.44 136.46,431.91 137.06,433.43 137.67,435.02 138.27,436.69 138.87,438.47 139.47,440.26 140.07,442.17 140.67,444.33 141.28,446.61 141.88,449.11 142.48,451.55 143.08,453.80 143.68,455.90 144.28,457.96 144.89,460.05 145.49,462.15 146.09,464.14 146.69,465.99 147.29,467.60 147.89,469.12 148.50,470.50 149.10,471.80 149.70,473.08 150.30,474.30 150.90,475.49 151.50,476.59 152.11,477.61 152.71,478.52 153.31,479.34 153.91,480.20 154.51,480.97 155.11,481.73 155.72,482.40 156.32,482.91 156.92,483.38 157.52,483.79 158.12,484.25 158.72,484.74 159.33,485.28 159.93,485.83 160.53,486.37 161.13,486.89 161.73,487.41 162.33,487.90 162.94,488.38 163.54,488.80 164.14,489.18 164.74,489.55 165.34,489.92 165.94,490.32 166.55,490.73 167.15,491.18 167.75,491.63 168.35,492.05 168.95,492.46 169.55,492.87 170.16,493.24 170.76,493.58 171.36,493.89 171.96,494.19 172.56,494.55 173.16,494.92 173.77,495.34 174.37,495.77 174.97,496.19 175.57,496.62 176.17,497.04 176.77,497.47 177.38,497.89 177.98,498.26 178.58,498.60 179.18,498.89 179.78,499.15 180.38,499.43 180.99,499.71 181.59,500.01 182.19,500.32 182.79,500.61 183.39,500.88 183.99,501.13 184.60,501.40 185.20,501.68 185.80,501.93 186.40,502.18 187.00,502.43 187.60,502.69 188.21,502.98 188.81,503.24 189.41,503.46 190.01,503.65 190.61,503.82 191.21,503.99 191.82,504.16 192.42,504.27 193.02,504.37 193.62,504.45 194.22,504.57 194.82,504.75 195.43,504.98 196.03,505.25 196.63,505.45 197.23,505.63 197.83,505.69 198.43,505.74 199.04,505.74 199.64,505.76 200.24,505.80 200.84,505.88 201.44,506.01 202.04,506.10 202.65,506.18 203.25,506.21 203.85,506.24 204.45,506.34 205.05,506.41 205.65,506.41 206.26,506.37 206.86,506.26 207.46,506.21 208.06,506.20 208.66,506.26 209.26,506.36 209.87,506.47 210.47,506.57 211.07,506.63 211.67,506.66 212.27,506.62 212.87,506.59 213.48,506.57 214.08,506.59 214.68,506.63 215.28,506.66 215.88,506.70 216.48,506.70 217.09,506.70 217.69,506.68 218.29,506.65 218.89,506.58 219.49,506.52 220.09,506.46 220.70,506.51 221.30,506.62 221.90,506.74 222.50,506.86" fill="none" stroke="#222222" stroke-width="1.1" stroke-linejoin="round" stroke-linecap="round"/>
</g>
<rect x="41.40" y="387.00" width="181.10" height="133.70" fill="none" stroke="#2c2c2c" stroke-width="1.35"/>
<line x1="57.57" y1="520.70" x2="57.57" y2="519.10" stroke="#2c2c2c" stroke-width="0.8"/>
<line x1="73.74" y1="520.70" x2="73.74" y2="518.50" stroke="#2c2c2c" stroke-width="0.8"/>
<line x1="89.91" y1="520.70" x2="89.91" y2="519.10" stroke="#2c2c2c" stroke-width="0.8"/>
<line x1="106.08" y1="520.70" x2="106.08" y2="518.50" stroke="#2c2c2c" stroke-width="0.8"/>
<line x1="122.25" y1="520.70" x2="122.25" y2="519.10" stroke="#2c2c2c" stroke-width="0.8"/>
<line x1="138.42" y1="520.70" x2="138.42" y2="518.50" stroke="#2c2c2c" stroke-width="0.8"/>
<line x1="154.59" y1="520.70" x2="154.59" y2="519.10" stroke="#2c2c2c" stroke-width="0.8"/>
<line x1="170.76" y1="520.70" x2="170.76" y2="518.50" stroke="#2c2c2c" stroke-width="0.8"/>
<line x1="186.93" y1="520.70" x2="186.93" y2="519.10" stroke="#2c2c2c" stroke-width="0.8"/>
<line x1="203.10" y1="520.70" x2="203.10" y2="518.50" stroke="#2c2c2c" stroke-width="0.8"/>
<line x1="219.27" y1="520.70" x2="219.27" y2="519.10" stroke="#2c2c2c" stroke-width="0.8"/>
<line x1="41.40" y1="507.33" x2="43.00" y2="507.33" stroke="#2c2c2c" stroke-width="0.8"/>
<line x1="41.40" y1="493.96" x2="43.60" y2="493.96" stroke="#2c2c2c" stroke-width="0.8"/>
<line x1="41.40" y1="480.59" x2="43.00" y2="480.59" stroke="#2c2c2c" stroke-width="0.8"/>
<line x1="41.40" y1="467.22" x2="43.60" y2="467.22" stroke="#2c2c2c" stroke-width="0.8"/>
<line x1="41.40" y1="453.85" x2="43.00" y2="453.85" stroke="#2c2c2c" stroke-width="0.8"/>
<line x1="41.40" y1="440.48" x2="43.60" y2="440.48" stroke="#2c2c2c" stroke-width="0.8"/>
<line x1="41.40" y1="427.11" x2="43.00" y2="427.11" stroke="#2c2c2c" stroke-width="0.8"/>
<line x1="41.40" y1="413.74" x2="43.60" y2="413.74" stroke="#2c2c2c" stroke-width="0.8"/>
<line x1="41.40" y1="400.37" x2="43.00" y2="400.37" stroke="#2c2c2c" stroke-width="0.8"/>
<text x="41.70" y="531.00" class="tk" text-anchor="middle">0</text>
<text x="74.04" y="531.00" class="tk" text-anchor="middle">20</text>
<text x="106.38" y="531.00" class="tk" text-anchor="middle">40</text>
<text x="138.72" y="531.00" class="tk" text-anchor="middle">60</text>
<text x="171.06" y="531.00" class="tk" text-anchor="middle">80</text>
<text x="203.40" y="531.00" class="tk" text-anchor="middle">100</text>
<text x="38.60" y="522.80" class="tk" text-anchor="end">0</text>
<text x="38.60" y="496.06" class="tk" text-anchor="end">2</text>
<text x="38.60" y="469.32" class="tk" text-anchor="end">4</text>
<text x="38.60" y="442.58" class="tk" text-anchor="end">6</text>
<text x="38.60" y="415.84" class="tk" text-anchor="end">8</text>
<text x="38.60" y="389.10" class="tk" text-anchor="end">10</text>
<text x="4.80" y="379.20" class="pl" text-anchor="start">(e)</text>
<text x="24.90" y="458.10" class="yl" text-anchor="middle" transform="rotate(-90 24.90 458.10)">Mass concentration (%)</text>
<text x="132.00" y="543.20" class="xl" text-anchor="middle">Depth (&#181;m)</text>
<text x="48.30" y="394.30" class="lg" fill="#2ed82e" stroke="#2ed82e">Mn - (5&#215;)</text>
<text x="48.30" y="402.50" class="lg" fill="#ff2e2e" stroke="#ff2e2e">Cu&#160; - (5&#215;)</text>
<text x="48.30" y="410.70" class="lg" fill="#2e62ff" stroke="#2e62ff">Fe&#160; -&#160; (5&#215;)</text>
<text x="151.70" y="398.40" class="ann" text-anchor="start">Before Brazing</text>
<text x="195.30" y="424.90" class="el" text-anchor="start">Mn</text>
<text x="163.90" y="463.50" class="ann" text-anchor="start">Core layer</text>
<text x="66.60" y="463.40" class="ann" text-anchor="start">Clad layer</text>
<text x="200.60" y="475.10" class="el" text-anchor="start">Cu</text>
<text x="200.90" y="491.90" class="el" text-anchor="start">Fe</text>
<text x="70.80" y="422.20" class="si" text-anchor="start">Si</text>
<clipPath id="clip5"><rect x="290.00" y="387.00" width="178.60" height="131.30"/></clipPath>
<g clip-path="url(#clip5)">
<line x1="346.56" y1="387.00" x2="346.56" y2="518.30" stroke="#f4506e" stroke-width="0.9" stroke-dasharray="1.1,1.4"/>
<polyline points="290.00,485.16 290.60,489.51 291.20,493.36 291.80,496.58 292.41,499.74 293.01,502.63 293.61,504.77 294.21,505.88 294.81,506.57 295.41,507.12 296.01,507.51 296.61,507.79 297.22,507.92 297.82,507.97 298.42,508.01 299.02,508.05 299.62,508.08 300.22,508.12 300.82,508.14 301.43,508.14 302.03,508.14 302.63,508.20 303.23,508.25 303.83,508.25 304.43,508.23 305.03,508.15 305.64,508.11 306.24,508.13 306.84,508.07 307.44,507.99 308.04,507.78 308.64,507.55 309.24,507.48 309.84,507.42 310.45,507.42 311.05,507.39 311.65,507.29 312.25,507.25 312.85,507.26 313.45,507.31 314.05,507.39 314.66,507.37 315.26,507.33 315.86,507.24 316.46,507.14 317.06,507.03 317.66,506.89 318.26,506.73 318.86,506.54 319.47,506.34 320.07,506.27 320.67,506.24 321.27,506.28 321.87,506.31 322.47,506.27 323.07,506.21 323.68,506.14 324.28,506.01 324.88,505.82 325.48,505.62 326.08,505.41 326.68,505.38 327.28,505.37 327.88,505.39 328.49,505.35 329.09,505.11 329.69,504.82 330.29,504.47 330.89,504.15 331.49,503.85 332.09,503.60 332.70,503.35 333.30,503.12 333.90,502.84 334.50,502.41 335.10,501.93 335.70,501.39 336.30,500.79 336.91,500.11 337.51,499.23 338.11,498.20 338.71,497.15 339.31,496.06 339.91,495.01 340.51,493.97 341.11,492.97 341.72,492.05 342.32,491.20 342.92,490.27 343.52,489.28 344.12,488.15 344.72,486.95 345.32,485.93 345.93,484.92 346.53,484.00 347.13,482.99 347.73,481.77 348.33,480.43 348.93,478.96 349.53,477.50 350.13,476.05 350.74,474.78 351.34,473.55 351.94,472.58 352.54,471.61 353.14,470.67 353.74,469.62 354.34,468.34 354.95,467.03 355.55,465.70 356.15,464.52 356.75,463.43 357.35,462.42 357.95,461.44 358.55,460.37 359.15,459.25 359.76,457.98 360.36,456.81 360.96,455.80 361.56,455.00 362.16,454.37 362.76,453.51 363.36,452.58 363.97,451.44 364.57,450.35 365.17,449.53 365.77,448.69 366.37,447.75 366.97,446.87 367.57,446.06 368.18,445.48 368.78,445.03 369.38,444.35 369.98,443.57 370.58,442.59 371.18,441.59 371.78,440.61 372.38,439.64 372.99,438.66 373.59,437.80 374.19,437.07 374.79,436.63 375.39,436.34 375.99,436.06 376.59,435.79 377.20,435.38 377.80,435.03 378.40,434.84 379.00,434.52 379.60,434.03 380.20,433.45 380.80,432.81 381.40,432.57 382.01,432.44 382.61,432.18 383.21,431.89 383.81,431.40 384.41,431.00 385.01,430.84 385.61,430.55 386.22,430.13 386.82,429.48 387.42,428.73 388.02,428.33 388.62,428.02 389.22,427.84 389.82,427.66 390.42,427.39 391.03,427.17 391.63,427.03 392.23,426.81 392.83,426.53 393.43,425.92 394.03,425.19 394.63,424.53 395.24,423.93 395.84,423.85 396.44,423.86 397.04,424.11 397.64,424.33 398.24,424.50 398.84,424.51 399.45,424.43 400.05,424.21 400.65,423.96 401.25,423.65 401.85,423.36 402.45,423.23 403.05,423.13 403.65,423.09 404.26,423.05 404.86,423.01 405.46,423.09 406.06,423.23 406.66,423.20 407.26,423.15 407.86,422.93 408.47,422.77 409.07,422.87 409.67,422.93 410.27,422.93 410.87,422.78 411.47,422.52 412.07,422.32 412.67,422.12 413.28,421.81 413.88,421.49 414.48,421.23 415.08,421.05 415.68,421.08 416.28,421.13 416.88,421.19 417.49,421.15 418.09,421.06 418.69,421.13 419.29,421.24 419.89,421.48 420.49,421.68 421.09,421.63 421.69,421.63 422.30,421.72 422.90,421.80 423.50,421.89 424.10,421.79 424.70,421.62 425.30,421.48 425.90,421.35 426.51,421.14 427.11,421.04 427.71,421.23 428.31,421.55 428.91,422.04 429.51,422.05 430.11,421.74 430.72,421.25 431.32,420.70 431.92,420.66 432.52,420.67 433.12,420.84 433.72,421.09 434.32,421.53 434.92,421.99 435.53,422.48 436.13,422.59 436.73,422.52 437.33,422.14 437.93,421.71 438.53,421.67 439.13,421.70 439.74,422.03 440.34,422.26 440.94,422.32 441.54,422.40 442.14,422.49 442.74,422.71 443.34,422.98 443.94,422.77 444.55,422.48 445.15,421.87 445.75,421.41 446.35,421.37 446.95,421.47 447.55,421.76 448.15,421.96 448.76,422.11 449.36,422.47 449.96,422.88 450.56,423.43 451.16,423.91 451.76,423.99 452.36,423.93 452.96,423.61 453.57,423.32 454.17,423.05 454.77,422.87 455.37,422.72 455.97,422.92 456.57,423.18 457.17,423.73 457.78,424.21 458.38,424.39 458.98,424.41 459.58,424.20 460.18,424.18 460.78,424.30 461.38,424.69 461.99,425.17 462.59,425.37 463.19,425.49 463.79,425.13 464.39,424.85 464.99,424.77 465.59,424.90 466.19,425.27 466.80,425.47 467.40,425.56 468.00,425.59 468.60,425.59" fill="none" stroke="#1ee81e" stroke-width="1.3" stroke-linejoin="round" stroke-linecap="round"/>
<polyline points="290.00,487.97 290.60,490.35 291.20,492.38 291.80,493.92 292.41,495.36 293.01,496.67 293.61,497.64 294.21,498.17 294.81,498.52 295.41,498.84 296.01,499.12 296.61,499.35 297.22,499.36 297.82,499.32 298.42,499.22 299.02,499.19 299.62,499.28 300.22,499.38 300.82,499.50 301.43,499.59 302.03,499.67 302.63,499.78 303.23,499.87 303.83,499.83 304.43,499.77 305.03,499.67 305.64,499.63 306.24,499.67 306.84,499.73 307.44,499.79 308.04,499.72 308.64,499.63 309.24,499.60 309.84,499.60 310.45,499.71 311.05,499.81 311.65,499.92 312.25,500.05 312.85,500.21 313.45,500.28 314.05,500.31 314.66,500.18 315.26,500.03 315.86,499.98 316.46,499.96 317.06,500.01 317.66,500.06 318.26,500.12 318.86,500.12 319.47,500.09 320.07,499.99 320.67,499.87 321.27,499.84 321.87,499.84 322.47,500.02 323.07,500.17 323.68,500.25 324.28,500.21 324.88,500.07 325.48,499.99 326.08,499.93 326.68,499.97 327.28,500.01 327.88,499.96 328.49,499.92 329.09,499.86 329.69,499.86 330.29,499.94 330.89,500.06 331.49,500.21 332.09,500.33 332.70,500.45 333.30,500.46 333.90,500.45 334.50,500.38 335.10,500.32 335.70,500.25 336.30,500.21 336.91,500.20 337.51,500.17 338.11,500.14 338.71,500.10 339.31,500.05 339.91,500.14 340.51,500.21 341.11,500.24 341.72,500.24 342.32,500.21 342.92,500.20 343.52,500.20 344.12,500.13 344.72,500.03 345.32,499.97 345.93,499.92 346.53,499.89 347.13,499.85 347.73,499.76 348.33,499.73 348.93,499.76 349.53,499.83 350.13,499.91 350.74,500.00 351.34,500.09 351.94,500.12 352.54,500.13 353.14,500.03 353.74,499.92 354.34,499.81 354.95,499.71 355.55,499.61 356.15,499.56 356.75,499.53 357.35,499.61 357.95,499.69 358.55,499.68 359.15,499.63 359.76,499.45 360.36,499.26 360.96,499.04 361.56,498.93 362.16,498.88 362.76,498.89 363.36,498.92 363.97,498.83 364.57,498.72 365.17,498.58 365.77,498.45 366.37,498.39 366.97,498.36 367.57,498.38 368.18,498.37 368.78,498.32 369.38,498.15 369.98,497.95 370.58,497.81 371.18,497.67 371.78,497.58 372.38,497.50 372.99,497.41 373.59,497.37 374.19,497.36 374.79,497.31 375.39,497.23 375.99,497.08 376.59,496.92 377.20,496.83 377.80,496.74 378.40,496.67 379.00,496.59 379.60,496.49 380.20,496.34 380.80,496.16 381.40,495.92 382.01,495.64 382.61,495.40 383.21,495.15 383.81,494.91 384.41,494.66 385.01,494.43 385.61,494.24 386.22,494.11 386.82,493.84 387.42,493.51 388.02,493.10 388.62,492.68 389.22,492.51 389.82,492.33 390.42,492.07 391.03,491.74 391.63,491.27 392.23,490.90 392.83,490.60 393.43,490.36 394.03,490.15 394.63,489.84 395.24,489.53 395.84,489.30 396.44,489.06 397.04,488.78 397.64,488.45 398.24,488.05 398.84,487.68 399.45,487.34 400.05,487.03 400.65,486.71 401.25,486.36 401.85,486.01 402.45,485.65 403.05,485.29 403.65,484.91 404.26,484.54 404.86,484.16 405.46,483.84 406.06,483.53 406.66,483.31 407.26,483.12 407.86,482.94 408.47,482.74 409.07,482.44 409.67,482.09 410.27,481.66 410.87,481.22 411.47,480.79 412.07,480.51 412.67,480.29 413.28,480.10 413.88,479.91 414.48,479.67 415.08,479.43 415.68,479.20 416.28,478.94 416.88,478.67 417.49,478.40 418.09,478.14 418.69,477.88 419.29,477.62 419.89,477.39 420.49,477.17 421.09,476.99 421.69,476.82 422.30,476.64 422.90,476.46 423.50,476.29 424.10,476.04 424.70,475.76 425.30,475.33 425.90,474.89 426.51,474.54 427.11,474.27 427.71,474.24 428.31,474.25 428.91,474.28 429.51,474.21 430.11,474.06 430.72,473.88 431.32,473.69 431.92,473.62 432.52,473.53 433.12,473.36 433.72,473.17 434.32,472.95 434.92,472.74 435.53,472.55 436.13,472.30 436.73,472.01 437.33,471.83 437.93,471.68 438.53,471.68 439.13,471.68 439.74,471.63 440.34,471.58 440.94,471.51 441.54,471.39 442.14,471.23 442.74,470.99 443.34,470.72 443.94,470.52 444.55,470.34 445.15,470.24 445.75,470.16 446.35,470.10 446.95,470.04 447.55,469.96 448.15,469.89 448.76,469.82 449.36,469.77 449.96,469.72 450.56,469.53 451.16,469.32 451.76,469.06 452.36,468.87 452.96,468.81 453.57,468.80 454.17,468.86 454.77,468.81 455.37,468.72 455.97,468.51 456.57,468.28 457.17,468.23 457.78,468.22 458.38,468.34 458.98,468.39 459.58,468.34 460.18,468.20 460.78,467.99 461.38,467.87 461.99,467.78 462.59,467.77 463.19,467.76 463.79,467.70 464.39,467.61 464.99,467.46 465.59,467.30 466.19,467.15 466.80,467.10 467.40,467.11 468.00,467.16 468.60,467.22" fill="none" stroke="#ff1a1a" stroke-width="1.3" stroke-linejoin="round" stroke-linecap="round"/>
<polyline points="290.00,478.88 290.60,484.33 291.20,489.81 291.80,494.86 292.41,499.95 293.01,504.68 293.61,508.19 294.21,509.74 294.81,510.13 295.41,509.70 296.01,509.81 296.61,511.39 297.22,512.04 297.82,513.33 298.42,514.14 299.02,512.36 299.62,511.80 300.22,512.92 300.82,514.55 301.43,514.62 302.03,514.28 302.63,515.21 303.23,516.01 303.83,515.72 304.43,514.14 305.03,514.35 305.64,515.62 306.24,515.35 306.84,514.63 307.44,514.97 308.04,515.71 308.64,516.12 309.24,514.66 309.84,513.66 310.45,514.77 311.05,514.46 311.65,513.82 312.25,514.08 312.85,513.58 313.45,512.88 314.05,512.46 314.66,513.14 315.26,513.74 315.86,513.95 316.46,514.73 317.06,513.97 317.66,513.49 318.26,513.06 318.86,512.48 319.47,512.68 320.07,512.15 320.67,511.75 321.27,512.31 321.87,512.94 322.47,511.93 323.07,510.89 323.68,512.03 324.28,513.02 324.88,512.87 325.48,512.15 326.08,510.97 326.68,511.51 327.28,511.75 327.88,511.39 328.49,512.22 329.09,512.21 329.69,511.68 330.29,511.33 330.89,511.72 331.49,511.00 332.09,510.35 332.70,509.90 333.30,509.75 333.90,509.64 334.50,509.96 335.10,510.78 335.70,510.44 336.30,509.04 336.91,509.16 337.51,510.72 338.11,509.85 338.71,509.63 339.31,508.90 339.91,506.46 340.51,506.80 341.11,506.83 341.72,505.57 342.32,505.40 342.92,505.57 343.52,505.96 344.12,505.93 344.72,504.76 345.32,503.51 345.93,503.04 346.53,504.88 347.13,505.23 347.73,503.56 348.33,502.78 348.93,503.06 349.53,502.56 350.13,502.07 350.74,502.09 351.34,502.48 351.94,502.36 352.54,502.53 353.14,503.05 353.74,501.76 354.34,500.99 354.95,500.66 355.55,500.63 356.15,499.68 356.75,499.75 357.35,500.92 357.95,501.21 358.55,500.26 359.15,499.30 359.76,499.63 360.36,499.82 360.96,499.95 361.56,500.30 362.16,499.85 362.76,499.62 363.36,499.30 363.97,499.29 364.57,498.10 365.17,497.01 365.77,497.19 366.37,497.45 366.97,497.08 367.57,496.42 368.18,495.96 368.78,496.96 369.38,497.78 369.98,499.34 370.58,500.04 371.18,498.18 371.78,497.10 372.38,496.88 372.99,496.05 373.59,496.13 374.19,495.65 374.79,494.96 375.39,496.16 375.99,496.29 376.59,495.98 377.20,496.39 377.80,496.32 378.40,495.77 379.00,494.83 379.60,494.38 380.20,494.77 380.80,495.58 381.40,494.93 382.01,494.06 382.61,493.01 383.21,493.41 383.81,494.03 384.41,492.98 385.01,493.12 385.61,493.53 386.22,493.07 386.82,492.48 387.42,492.78 388.02,492.92 388.62,492.38 389.22,493.20 389.82,495.07 390.42,494.52 391.03,493.51 391.63,492.70 392.23,491.97 392.83,492.13 393.43,492.41 394.03,491.86 394.63,492.12 395.24,492.03 395.84,491.42 396.44,492.78 397.04,493.18 397.64,492.61 398.24,492.18 398.84,491.51 399.45,491.78 400.05,491.71 400.65,491.55 401.25,491.82 401.85,491.82 402.45,492.10 403.05,492.40 403.65,492.45 404.26,493.00 404.86,492.42 405.46,491.61 406.06,491.90 406.66,491.97 407.26,491.87 407.86,491.85 408.47,492.01 409.07,491.76 409.67,491.57 410.27,491.99 410.87,492.89 411.47,492.07 412.07,491.57 412.67,491.96 413.28,491.95 413.88,492.27 414.48,492.87 415.08,492.87 415.68,491.98 416.28,491.06 416.88,491.08 417.49,491.02 418.09,491.68 418.69,493.64 419.29,492.81 419.89,491.15 420.49,491.64 421.09,492.30 421.69,491.83 422.30,490.70 422.90,490.25 423.50,491.00 424.10,492.35 424.70,491.55 425.30,491.18 425.90,490.68 426.51,490.39 427.11,490.47 427.71,491.02 428.31,491.39 428.91,491.09 429.51,490.43 430.11,490.05 430.72,490.51 431.32,490.49 431.92,490.65 432.52,490.66 433.12,490.68 433.72,491.04 434.32,491.32 434.92,491.04 435.53,491.35 436.13,491.68 436.73,491.20 437.33,490.97 437.93,490.74 438.53,489.92 439.13,490.71 439.74,491.77 440.34,490.83 440.94,490.42 441.54,490.23 442.14,490.08 442.74,490.69 443.34,491.30 443.94,491.38 444.55,490.95 445.15,490.49 445.75,490.72 446.35,490.99 446.95,491.12 447.55,492.01 448.15,492.29 448.76,491.76 449.36,491.43 449.96,491.48 450.56,491.47 451.16,490.79 451.76,491.37 452.36,491.97 452.96,491.46 453.57,490.55 454.17,490.96 454.77,491.37 455.37,491.20 455.97,490.83 456.57,490.09 457.17,490.16 457.78,490.20 458.38,490.62 458.98,490.32 459.58,489.84 460.18,490.64 460.78,491.01 461.38,490.79 461.99,490.69 462.59,489.74 463.19,490.31 463.79,491.04 464.39,490.51 464.99,490.07 465.59,490.12 466.19,489.91 466.80,490.90 467.40,492.13 468.00,492.14 468.60,491.61" fill="none" stroke="#1414f5" stroke-width="1.3" stroke-linejoin="round" stroke-linecap="round"/>
<polyline points="290.00,384.00 290.60,386.39 291.20,400.33 291.80,419.87 292.41,431.34 293.01,430.80 293.61,429.83 294.21,428.80 294.81,427.55 295.41,426.34 296.01,425.41 296.61,425.11 297.22,425.65 297.82,426.77 298.42,428.12 299.02,429.29 299.62,430.27 300.22,431.28 300.82,432.38 301.43,433.70 302.03,435.26 302.63,437.09 303.23,439.08 303.83,441.11 304.43,443.15 305.03,445.08 305.64,446.90 306.24,448.54 306.84,449.98 307.44,451.34 308.04,452.62 308.64,453.82 309.24,454.93 309.84,456.01 310.45,457.15 311.05,458.28 311.65,459.43 312.25,460.44 312.85,461.34 313.45,462.15 314.05,462.91 314.66,463.73 315.26,464.53 315.86,465.25 316.46,465.97 317.06,466.71 317.66,467.49 318.26,468.33 318.86,469.11 319.47,469.84 320.07,470.53 320.67,471.20 321.27,471.91 321.87,472.61 322.47,473.26 323.07,473.87 323.68,474.41 324.28,474.94 324.88,475.48 325.48,476.07 326.08,476.68 326.68,477.28 327.28,477.87 327.88,478.45 328.49,479.01 329.09,479.51 329.69,480.00 330.29,480.48 330.89,481.04 331.49,481.66 332.09,482.18 332.70,482.65 333.30,483.08 333.90,483.50 334.50,484.00 335.10,484.45 335.70,484.81 336.30,485.18 336.91,485.56 337.51,486.00 338.11,486.47 338.71,486.89 339.31,487.27 339.91,487.59 340.51,487.89 341.11,488.14 341.72,488.39 342.32,488.64 342.92,488.89 343.52,489.13 344.12,489.34 344.72,489.55 345.32,489.78 345.93,490.02 346.53,490.25 347.13,490.49 347.73,490.80 348.33,491.10 348.93,491.41 349.53,491.63 350.13,491.78 350.74,491.96 351.34,492.14 351.94,492.35 352.54,492.54 353.14,492.62 353.74,492.73 354.34,492.87 354.95,493.05 355.55,493.27 356.15,493.48 356.75,493.67 357.35,493.80 357.95,493.91 358.55,494.02 359.15,494.14 359.76,494.30 360.36,494.47 360.96,494.67 361.56,494.83 362.16,494.97 362.76,495.03 363.36,495.07 363.97,495.25 364.57,495.45 365.17,495.66 365.77,495.83 366.37,495.88 366.97,495.89 367.57,495.88 368.18,495.90 368.78,495.93 369.38,496.00 369.98,496.08 370.58,496.16 371.18,496.22 371.78,496.22 372.38,496.19 372.99,496.13 373.59,496.10 374.19,496.11 374.79,496.19 375.39,496.31 375.99,496.45 376.59,496.59 377.20,496.69 377.80,496.77 378.40,496.82 379.00,496.85 379.60,496.86 380.20,496.90 380.80,496.98 381.40,497.15 382.01,497.35 382.61,497.47 383.21,497.59 383.81,497.66 384.41,497.74 385.01,497.82 385.61,497.90 386.22,497.97 386.82,498.08 387.42,498.22 388.02,498.35 388.62,498.49 389.22,498.54 389.82,498.61 390.42,498.75 391.03,498.94 391.63,499.19 392.23,499.39 392.83,499.54 393.43,499.65 394.03,499.74 394.63,499.89 395.24,500.03 395.84,500.14 396.44,500.22 397.04,500.25 397.64,500.29 398.24,500.35 398.84,500.47 399.45,500.63 400.05,500.74 400.65,500.84 401.25,500.84 401.85,500.86 402.45,500.98 403.05,501.15 403.65,501.40 404.26,501.58 404.86,501.70 405.46,501.78 406.06,501.85 406.66,501.99 407.26,502.14 407.86,502.24 408.47,502.33 409.07,502.43 409.67,502.55 410.27,502.69 410.87,502.82 411.47,502.95 412.07,503.07 412.67,503.20 413.28,503.30 413.88,503.40 414.48,503.39 415.08,503.34 415.68,503.20 416.28,503.11 416.88,503.09 417.49,503.18 418.09,503.32 418.69,503.43 419.29,503.54 419.89,503.56 420.49,503.59 421.09,503.60 421.69,503.63 422.30,503.69 422.90,503.78 423.50,503.91 424.10,504.03 424.70,504.16 425.30,504.22 425.90,504.27 426.51,504.36 427.11,504.45 427.71,504.57 428.31,504.65 428.91,504.65 429.51,504.60 430.11,504.52 430.72,504.52 431.32,504.54 431.92,504.62 432.52,504.67 433.12,504.59 433.72,504.53 434.32,504.54 434.92,504.63 435.53,504.80 436.13,504.91 436.73,505.00 437.33,504.99 437.93,504.95 438.53,504.94 439.13,504.95 439.74,505.05 440.34,505.14 440.94,505.21 441.54,505.25 442.14,505.27 442.74,505.32 443.34,505.37 443.94,505.29 444.55,505.19 445.15,505.08 445.75,505.00 446.35,505.01 446.95,505.01 447.55,505.02 448.15,505.02 448.76,505.01 449.36,505.02 449.96,505.04 450.56,505.10 451.16,505.17 451.76,505.23 452.36,505.27 452.96,505.26 453.57,505.22 454.17,505.14 454.77,505.04 455.37,504.93 455.97,504.89 456.57,504.87 457.17,504.98 457.78,505.09 458.38,505.21 458.98,505.29 459.58,505.31 460.18,505.27 460.78,505.17 461.38,505.08 461.99,504.99 462.59,505.02 463.19,505.05 463.79,505.14 464.39,505.21 464.99,505.21 465.59,505.18 466.19,505.11 466.80,505.09 467.40,505.08 468.00,505.12 468.60,505.16" fill="none" stroke="#222222" stroke-width="1.1" stroke-linejoin="round" stroke-linecap="round"/>
</g>
<rect x="290.00" y="387.00" width="178.60" height="131.30" fill="none" stroke="#2c2c2c" stroke-width="1.35"/>
<line x1="304.88" y1="518.30" x2="304.88" y2="516.70" stroke="#2c2c2c" stroke-width="0.8"/>
<line x1="319.77" y1="518.30" x2="319.77" y2="516.10" stroke="#2c2c2c" stroke-width="0.8"/>
<line x1="334.65" y1="518.30" x2="334.65" y2="516.70" stroke="#2c2c2c" stroke-width="0.8"/>
<line x1="349.53" y1="518.30" x2="349.53" y2="516.10" stroke="#2c2c2c" stroke-width="0.8"/>
<line x1="364.42" y1="518.30" x2="364.42" y2="516.70" stroke="#2c2c2c" stroke-width="0.8"/>
<line x1="379.30" y1="518.30" x2="379.30" y2="516.10" stroke="#2c2c2c" stroke-width="0.8"/>
<line x1="394.18" y1="518.30" x2="394.18" y2="516.70" stroke="#2c2c2c" stroke-width="0.8"/>
<line x1="409.07" y1="518.30" x2="409.07" y2="516.10" stroke="#2c2c2c" stroke-width="0.8"/>
<line x1="423.95" y1="518.30" x2="423.95" y2="516.70" stroke="#2c2c2c" stroke-width="0.8"/>
<line x1="438.83" y1="518.30" x2="438.83" y2="516.10" stroke="#2c2c2c" stroke-width="0.8"/>
<line x1="453.72" y1="518.30" x2="453.72" y2="516.70" stroke="#2c2c2c" stroke-width="0.8"/>
<line x1="290.00" y1="505.17" x2="291.60" y2="505.17" stroke="#2c2c2c" stroke-width="0.8"/>
<line x1="290.00" y1="492.04" x2="292.20" y2="492.04" stroke="#2c2c2c" stroke-width="0.8"/>
<line x1="290.00" y1="478.91" x2="291.60" y2="478.91" stroke="#2c2c2c" stroke-width="0.8"/>
<line x1="290.00" y1="465.78" x2="292.20" y2="465.78" stroke="#2c2c2c" stroke-width="0.8"/>
<line x1="290.00" y1="452.65" x2="291.60" y2="452.65" stroke="#2c2c2c" stroke-width="0.8"/>
<line x1="290.00" y1="439.52" x2="292.20" y2="439.52" stroke="#2c2c2c" stroke-width="0.8"/>
<line x1="290.00" y1="426.39" x2="291.60" y2="426.39" stroke="#2c2c2c" stroke-width="0.8"/>
<line x1="290.00" y1="413.26" x2="292.20" y2="413.26" stroke="#2c2c2c" stroke-width="0.8"/>
<line x1="290.00" y1="400.13" x2="291.60" y2="400.13" stroke="#2c2c2c" stroke-width="0.8"/>
<text x="290.30" y="528.00" class="tk" text-anchor="middle">0</text>
<text x="320.07" y="528.00" class="tk" text-anchor="middle">20</text>
<text x="349.83" y="528.00" class="tk" text-anchor="middle">40</text>
<text x="379.60" y="528.00" class="tk" text-anchor="middle">60</text>
<text x="409.37" y="528.00" class="tk" text-anchor="middle">80</text>
<text x="439.13" y="528.00" class="tk" text-anchor="middle">100</text>
<text x="468.90" y="528.00" class="tk" text-anchor="middle">120</text>
<text x="287.20" y="520.40" class="tk" text-anchor="end">0</text>
<text x="287.20" y="494.14" class="tk" text-anchor="end">2</text>
<text x="287.20" y="467.88" class="tk" text-anchor="end">4</text>
<text x="287.20" y="441.62" class="tk" text-anchor="end">6</text>
<text x="287.20" y="415.36" class="tk" text-anchor="end">8</text>
<text x="287.20" y="389.10" class="tk" text-anchor="end">10</text>
<text x="264.00" y="379.40" class="pl" text-anchor="start">(f)</text>
<text x="274.00" y="457.10" class="yl" text-anchor="middle" transform="rotate(-90 274.00 457.10)">Mass concentration (%)</text>
<text x="374.30" y="540.50" class="xl" text-anchor="middle">Depth (&#181;m)</text>
<text x="300.50" y="396.60" class="lg" fill="#2ed82e" stroke="#2ed82e">Mn - (5&#215;)</text>
<text x="300.50" y="404.80" class="lg" fill="#ff2e2e" stroke="#ff2e2e">Cu&#160; - (5&#215;)</text>
<text x="300.50" y="413.00" class="lg" fill="#2e62ff" stroke="#2e62ff">Fe&#160; -&#160; (5&#215;)</text>
<text x="405.60" y="397.60" class="ann" text-anchor="start">After Brazing</text>
<text x="445.00" y="417.80" class="el" text-anchor="start">Mn</text>
<text x="403.60" y="441.00" class="ann" text-anchor="start">Core layer</text>
<text x="301.20" y="427.10" class="ann" text-anchor="start">Re-solidified</text>
<text x="303.80" y="440.80" class="ann" text-anchor="start">clad layer</text>
<text x="309.80" y="454.70" class="si" text-anchor="start">Si</text>
<text x="443.80" y="466.30" class="el" text-anchor="start">Cu</text>
<text x="445.80" y="487.40" class="el" text-anchor="start">Fe</text>
</svg>
</body></html>
